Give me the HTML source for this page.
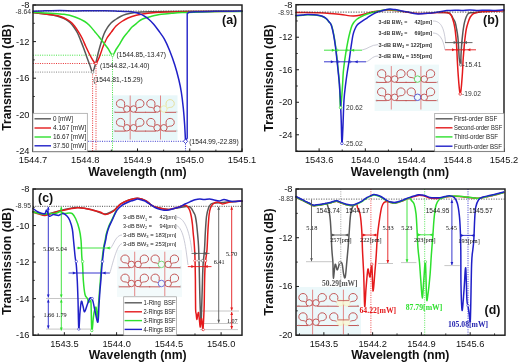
<!DOCTYPE html>
<html><head><meta charset="utf-8"><style>
html,body{margin:0;padding:0;background:#fff;width:520px;height:363px;overflow:hidden}
svg{display:block}
</style></head><body>
<svg width="520" height="363" viewBox="0 0 520 363">
<rect width="520" height="363" fill="#fff"/>
<rect x="112.5" y="95.3" width="65" height="44.7" fill="#e8f7f9"/>
<line x1="130.2" y1="95.5" x2="130.2" y2="139.5" stroke="#e07272" stroke-width="0.85" />
<line x1="160.5" y1="95.5" x2="160.5" y2="139.5" stroke="#e07272" stroke-width="0.85" />
<path d="M114.7,112.3 L125.7,112.35" fill="none" stroke="#c45858" stroke-width="1.0"/>
<path d="M124.6,106.6 C124.2,105.9 124.7,105 124.7,103.7 C124.7,101 122.6,99.6 120.6,99.6 C118.3,99.6 116.4,101.3 116.4,103.6 C116.4,105.9 118.2,107.4 120.4,107.4 C122,107.4 122.9,108 123.7,108.3" fill="none" stroke="#c45858" stroke-width="1.0"/>
<path d="M145.7,112.3 L134.7,112.35" fill="none" stroke="#c45858" stroke-width="1.0"/>
<path d="M135.8,106.6 C136.2,105.9 135.7,105 135.7,103.7 C135.7,101 137.8,99.6 139.8,99.6 C142.1,99.6 144,101.3 144,103.6 C144,105.9 142.2,107.4 140,107.4 C138.4,107.4 137.5,108 136.7,108.3" fill="none" stroke="#c45858" stroke-width="1.0"/>
<circle cx="126.85" cy="109" r="3.25" fill="none" stroke="#c45858" stroke-width="1.0"/>
<circle cx="133.55" cy="109" r="3.25" fill="none" stroke="#c45858" stroke-width="1.0"/>
<path d="M145,112.3 L156,112.35" fill="none" stroke="#c45858" stroke-width="1.0"/>
<path d="M154.9,106.6 C154.5,105.9 155,105 155,103.7 C155,101 152.9,99.6 150.9,99.6 C148.6,99.6 146.7,101.3 146.7,103.6 C146.7,105.9 148.5,107.4 150.7,107.4 C152.3,107.4 153.2,108 154,108.3" fill="none" stroke="#c45858" stroke-width="1.0"/>
<path d="M176,112.3 L165,112.35" fill="none" stroke="#c45858" stroke-width="1.0"/>
<path d="M166.1,106.6 C166.5,105.9 166,105 166,103.7 C166,101 168.1,99.6 170.1,99.6 C172.4,99.6 174.3,101.3 174.3,103.6 C174.3,105.9 172.5,107.4 170.3,107.4 C168.7,107.4 167.8,108 167,108.3" fill="none" stroke="#e6e0a0" stroke-width="1.0"/>
<circle cx="157.15" cy="109" r="3.25" fill="none" stroke="#c45858" stroke-width="1.0"/>
<circle cx="163.85" cy="109" r="3.25" fill="none" stroke="#eeeeb0" stroke-width="1.0"/>
<line x1="145.5" y1="112.3" x2="145.2" y2="112.3" stroke="#c45858" stroke-width="0.85" />
<line x1="115.4" y1="112.3" x2="114.9" y2="112.3" stroke="#c45858" stroke-width="0.85" />
<line x1="175.8" y1="112.3" x2="176" y2="112.3" stroke="#c45858" stroke-width="0.85" />
<line x1="114.6" y1="111" x2="114.6" y2="113.1" stroke="#b0b0b0" stroke-width="0.6" />
<line x1="176.8" y1="111" x2="176.8" y2="113.1" stroke="#b0b0b0" stroke-width="0.6" />
<path d="M114.7,131.1 L125.7,131.15" fill="none" stroke="#c45858" stroke-width="1.0"/>
<path d="M124.6,125.4 C124.2,124.7 124.7,123.8 124.7,122.5 C124.7,119.8 122.6,118.4 120.6,118.4 C118.3,118.4 116.4,120.1 116.4,122.4 C116.4,124.7 118.2,126.2 120.4,126.2 C122,126.2 122.9,126.8 123.7,127.1" fill="none" stroke="#c45858" stroke-width="1.0"/>
<path d="M145.7,131.1 L134.7,131.15" fill="none" stroke="#c45858" stroke-width="1.0"/>
<path d="M135.8,125.4 C136.2,124.7 135.7,123.8 135.7,122.5 C135.7,119.8 137.8,118.4 139.8,118.4 C142.1,118.4 144,120.1 144,122.4 C144,124.7 142.2,126.2 140,126.2 C138.4,126.2 137.5,126.8 136.7,127.1" fill="none" stroke="#c45858" stroke-width="1.0"/>
<circle cx="126.85" cy="127.8" r="3.25" fill="none" stroke="#c45858" stroke-width="1.0"/>
<circle cx="133.55" cy="127.8" r="3.25" fill="none" stroke="#c45858" stroke-width="1.0"/>
<path d="M145,131.1 L156,131.15" fill="none" stroke="#c45858" stroke-width="1.0"/>
<path d="M154.9,125.4 C154.5,124.7 155,123.8 155,122.5 C155,119.8 152.9,118.4 150.9,118.4 C148.6,118.4 146.7,120.1 146.7,122.4 C146.7,124.7 148.5,126.2 150.7,126.2 C152.3,126.2 153.2,126.8 154,127.1" fill="none" stroke="#c45858" stroke-width="1.0"/>
<path d="M176,131.1 L165,131.15" fill="none" stroke="#c45858" stroke-width="1.0"/>
<path d="M166.1,125.4 C166.5,124.7 166,123.8 166,122.5 C166,119.8 168.1,118.4 170.1,118.4 C172.4,118.4 174.3,120.1 174.3,122.4 C174.3,124.7 172.5,126.2 170.3,126.2 C168.7,126.2 167.8,126.8 167,127.1" fill="none" stroke="#c45858" stroke-width="1.0"/>
<circle cx="157.15" cy="127.8" r="3.25" fill="none" stroke="#c45858" stroke-width="1.0"/>
<circle cx="163.85" cy="127.8" r="3.25" fill="none" stroke="#c45858" stroke-width="1.0"/>
<line x1="145.5" y1="131.1" x2="145.2" y2="131.1" stroke="#c45858" stroke-width="0.85" />
<line x1="115.4" y1="131.1" x2="114.9" y2="131.1" stroke="#c45858" stroke-width="0.85" />
<line x1="175.8" y1="131.1" x2="176" y2="131.1" stroke="#c45858" stroke-width="0.85" />
<line x1="114.6" y1="129.8" x2="114.6" y2="131.9" stroke="#b0b0b0" stroke-width="0.6" />
<line x1="176.8" y1="129.8" x2="176.8" y2="131.9" stroke="#b0b0b0" stroke-width="0.6" />
<line x1="33" y1="55.2" x2="112.5" y2="55.2" stroke="#2ee02e" stroke-width="0.9" stroke-dasharray="1 1.3"/>
<line x1="112.5" y1="55.2" x2="112.5" y2="151.4" stroke="#2ee02e" stroke-width="0.9" stroke-dasharray="1 1.3"/>
<line x1="33" y1="63.5" x2="96" y2="63.5" stroke="#e41a1c" stroke-width="0.9" stroke-dasharray="1 1.3"/>
<line x1="96" y1="63.5" x2="96" y2="151.4" stroke="#e41a1c" stroke-width="0.9" stroke-dasharray="1 1.3"/>
<line x1="33" y1="72.1" x2="92.6" y2="72.1" stroke="#777" stroke-width="0.9" stroke-dasharray="1 1.3"/>
<line x1="92.6" y1="72.1" x2="92.6" y2="151.4" stroke="#e41a1c" stroke-width="0.9" stroke-dasharray="1 1.3"/>
<line x1="33" y1="141.3" x2="185.5" y2="141.3" stroke="#2020c8" stroke-width="0.9" stroke-dasharray="1 1.3"/>
<line x1="185.5" y1="141.3" x2="185.5" y2="151.4" stroke="#2020c8" stroke-width="0.9" stroke-dasharray="1 1.3"/>
<path d="M33,12.6 C35,12.83 41.55,13.55 45,14 C48.45,14.45 51.2,14.8 53.7,15.3 C56.2,15.8 57.95,16.3 60,17 C62.05,17.7 64.25,18.5 66,19.5 C67.75,20.5 69.12,21.63 70.5,23 C71.88,24.37 73.13,26.03 74.3,27.7 C75.47,29.37 76.47,30.93 77.5,33 C78.53,35.07 79.48,37.6 80.5,40.1 C81.52,42.6 82.57,45.23 83.6,48 C84.63,50.77 85.67,53.87 86.7,56.7 C87.73,59.53 88.82,62.48 89.8,65 C90.78,67.52 91.65,71.97 92.6,71.8 C93.55,71.63 94.57,67.13 95.5,64 C96.43,60.87 97.25,56.63 98.2,53 C99.15,49.37 100.23,45.37 101.2,42.2 C102.17,39.03 102.97,36.42 104,34 C105.03,31.58 106.23,29.53 107.4,27.7 C108.57,25.87 109.63,24.37 111,23 C112.37,21.63 114.02,20.58 115.6,19.5 C117.18,18.42 118.77,17.37 120.5,16.5 C122.23,15.63 123.58,14.95 126,14.3 C128.42,13.65 131,13.03 135,12.6 C139,12.17 143.33,11.9 150,11.7 C156.67,11.5 159.67,11.47 175,11.4 C190.33,11.33 230.83,11.32 242,11.3" fill="none" stroke="#585858" stroke-width="1.5" stroke-linejoin="round" stroke-linecap="round" />
<path d="M33,12.6 C35,12.83 40.87,13.48 45,14 C49.13,14.52 54.63,15.03 57.8,15.7 C60.97,16.37 61.93,17.03 64,18 C66.07,18.97 68.45,20.17 70.2,21.5 C71.95,22.83 73.12,24.27 74.5,26 C75.88,27.73 77.2,29.82 78.5,31.9 C79.8,33.98 81.1,36.1 82.3,38.5 C83.5,40.9 84.6,43.88 85.7,46.3 C86.8,48.72 87.87,50.93 88.9,53 C89.93,55.07 91.05,57.2 91.9,58.7 C92.75,60.2 93.32,61.2 94,62 C94.68,62.8 95.25,64 96,63.5 C96.75,63 97.7,60.75 98.5,59 C99.3,57.25 100.02,55.12 100.8,53 C101.58,50.88 102.17,48.8 103.2,46.3 C104.23,43.8 105.62,40.4 107,38 C108.38,35.6 110,33.9 111.5,31.9 C113,29.9 114.28,27.73 116,26 C117.72,24.27 119.8,22.83 121.8,21.5 C123.8,20.17 125.58,19.03 128,18 C130.42,16.97 132.97,16.1 136.3,15.3 C139.63,14.5 143.22,13.75 148,13.2 C152.78,12.65 158,12.28 165,12 C172,11.72 177.17,11.62 190,11.5 C202.83,11.38 233.33,11.33 242,11.3" fill="none" stroke="#e41a1c" stroke-width="1.5" stroke-linejoin="round" stroke-linecap="round" />
<path d="M33,12.3 C35.83,12.45 44.83,12.87 50,13.2 C55.17,13.53 59.83,13.67 64,14.3 C68.17,14.93 71.55,15.8 75,17 C78.45,18.2 82.2,20 84.7,21.5 C87.2,23 88.28,24.27 90,26 C91.72,27.73 93.5,30.12 95,31.9 C96.5,33.68 97.63,34.98 99,36.7 C100.37,38.42 101.7,40.23 103.2,42.2 C104.7,44.17 106.45,46.33 108,48.5 C109.55,50.67 111.17,55.03 112.5,55.2 C113.83,55.37 114.78,51.4 116,49.5 C117.22,47.6 118.55,45.8 119.8,43.8 C121.05,41.8 122.13,39.48 123.5,37.5 C124.87,35.52 126.58,33.65 128,31.9 C129.42,30.15 130.62,28.38 132,27 C133.38,25.62 134.85,24.77 136.3,23.6 C137.75,22.43 139.08,20.97 140.7,20 C142.32,19.03 144.28,18.4 146,17.8 C147.72,17.2 148.45,16.98 151,16.4 C153.55,15.82 157.85,14.82 161.3,14.3 C164.75,13.78 168.25,13.58 171.7,13.3 C175.15,13.02 177.28,12.82 182,12.6 C186.72,12.38 193.67,12.17 200,12 C206.33,11.83 213,11.7 220,11.6 C227,11.5 238.33,11.43 242,11.4" fill="none" stroke="#2ee02e" stroke-width="1.5" stroke-linejoin="round" stroke-linecap="round" />
<path d="M33,11.2 C35,11.13 40.5,10.92 45,10.8 C49.5,10.68 55,10.48 60,10.5 C65,10.52 70,10.87 75,10.9 C80,10.93 85,10.72 90,10.7 C95,10.68 100.33,10.72 105,10.8 C109.67,10.88 114.17,11.07 118,11.2 C121.83,11.33 125.27,11.42 128,11.6 C130.73,11.78 132.57,11.97 134.4,12.3 C136.23,12.63 137.4,13.02 139,13.6 C140.6,14.18 142.33,14.82 144,15.8 C145.67,16.78 147.38,18.1 149,19.5 C150.62,20.9 152.12,22.37 153.7,24.2 C155.28,26.03 156.72,28.02 158.5,30.5 C160.28,32.98 162.55,35.77 164.4,39.1 C166.25,42.43 167.87,46.18 169.6,50.5 C171.33,54.82 173.25,60.08 174.8,65 C176.35,69.92 177.82,75.5 178.9,80 C179.98,84.5 180.57,87.33 181.3,92 C182.03,96.67 182.75,102.67 183.3,108 C183.85,113.33 184.23,118.48 184.6,124 C184.97,129.52 185.35,138.25 185.5,141.1" fill="none" stroke="#2020c8" stroke-width="1.5" stroke-linejoin="round" stroke-linecap="round" />
<path d="M185.5,141.1 L187.2,138 L187.2,13.5 L189,12.3 L195,11.8" fill="none" stroke="#2020c8" stroke-width="1.4" />
<path d="M195,11.8 C197.5,11.73 205,11.48 210,11.4 C215,11.32 219.67,11.35 225,11.3 C230.33,11.25 239.17,11.13 242,11.1" fill="none" stroke="#2020c8" stroke-width="1.5" stroke-linejoin="round" stroke-linecap="round" />
<line x1="33" y1="11" x2="242" y2="11" stroke="#444" stroke-width="0.8" stroke-dasharray="1.2 1.3"/>
<circle cx="92.6" cy="72.1" r="1.3" fill="#fff" stroke="#777" stroke-width="0.7"/>
<circle cx="96" cy="63.5" r="1.3" fill="#fff" stroke="#e41a1c" stroke-width="0.7"/>
<circle cx="112.5" cy="55.2" r="1.3" fill="#fff" stroke="#2ee02e" stroke-width="0.7"/>
<polygon points="185.5,139.1 187.7,141.3 185.5,143.5 183.3,141.3" fill="#fff" stroke="#2020c8" stroke-width="0.8"/>
<rect x="33" y="5" width="209" height="146.4" fill="none" stroke="#1e1e1e" stroke-width="1.45"/>
<line x1="33" y1="151.4" x2="33" y2="148.4" stroke="#1e1e1e" stroke-width="1.0" />
<line x1="85.25" y1="151.4" x2="85.25" y2="148.4" stroke="#1e1e1e" stroke-width="1.0" />
<line x1="137.5" y1="151.4" x2="137.5" y2="148.4" stroke="#1e1e1e" stroke-width="1.0" />
<line x1="189.75" y1="151.4" x2="189.75" y2="148.4" stroke="#1e1e1e" stroke-width="1.0" />
<line x1="242" y1="151.4" x2="242" y2="148.4" stroke="#1e1e1e" stroke-width="1.0" />
<line x1="59.12" y1="151.4" x2="59.12" y2="149.6" stroke="#1e1e1e" stroke-width="0.9" />
<line x1="111.37" y1="151.4" x2="111.37" y2="149.6" stroke="#1e1e1e" stroke-width="0.9" />
<line x1="163.63" y1="151.4" x2="163.63" y2="149.6" stroke="#1e1e1e" stroke-width="0.9" />
<line x1="215.88" y1="151.4" x2="215.88" y2="149.6" stroke="#1e1e1e" stroke-width="0.9" />
<line x1="33" y1="5" x2="36" y2="5" stroke="#1e1e1e" stroke-width="1.0" />
<line x1="33" y1="41.6" x2="36" y2="41.6" stroke="#1e1e1e" stroke-width="1.0" />
<line x1="33" y1="78.2" x2="36" y2="78.2" stroke="#1e1e1e" stroke-width="1.0" />
<line x1="33" y1="114.8" x2="36" y2="114.8" stroke="#1e1e1e" stroke-width="1.0" />
<line x1="33" y1="151.4" x2="36" y2="151.4" stroke="#1e1e1e" stroke-width="1.0" />
<line x1="33" y1="23.3" x2="34.8" y2="23.3" stroke="#1e1e1e" stroke-width="0.9" />
<line x1="33" y1="59.9" x2="34.8" y2="59.9" stroke="#1e1e1e" stroke-width="0.9" />
<line x1="33" y1="96.5" x2="34.8" y2="96.5" stroke="#1e1e1e" stroke-width="0.9" />
<line x1="33" y1="133.1" x2="34.8" y2="133.1" stroke="#1e1e1e" stroke-width="0.9" />
<text x="33" y="163" font-family="'Liberation Sans', Arial, sans-serif" font-size="9.3" font-weight="normal" fill="#111" text-anchor="middle" >1544.7</text>
<text x="85.25" y="163" font-family="'Liberation Sans', Arial, sans-serif" font-size="9.3" font-weight="normal" fill="#111" text-anchor="middle" >1544.8</text>
<text x="137.5" y="163" font-family="'Liberation Sans', Arial, sans-serif" font-size="9.3" font-weight="normal" fill="#111" text-anchor="middle" >1544.9</text>
<text x="189.75" y="163" font-family="'Liberation Sans', Arial, sans-serif" font-size="9.3" font-weight="normal" fill="#111" text-anchor="middle" >1545.0</text>
<text x="242" y="163" font-family="'Liberation Sans', Arial, sans-serif" font-size="9.3" font-weight="normal" fill="#111" text-anchor="middle" >1545.1</text>
<text x="29.5" y="8" font-family="'Liberation Sans', Arial, sans-serif" font-size="9.3" font-weight="normal" fill="#111" text-anchor="end" >-8</text>
<text x="29.5" y="44.6" font-family="'Liberation Sans', Arial, sans-serif" font-size="9.3" font-weight="normal" fill="#111" text-anchor="end" >-12</text>
<text x="29.5" y="81.2" font-family="'Liberation Sans', Arial, sans-serif" font-size="9.3" font-weight="normal" fill="#111" text-anchor="end" >-16</text>
<text x="29.5" y="117.8" font-family="'Liberation Sans', Arial, sans-serif" font-size="9.3" font-weight="normal" fill="#111" text-anchor="end" >-20</text>
<text x="29.5" y="154.4" font-family="'Liberation Sans', Arial, sans-serif" font-size="9.3" font-weight="normal" fill="#111" text-anchor="end" >-24</text>
<text x="31" y="13.5" font-family="'Liberation Sans', Arial, sans-serif" font-size="6.8" font-weight="normal" fill="#333" text-anchor="end" >-8.64</text>
<text x="116.5" y="57.4" font-family="'Liberation Sans', Arial, sans-serif" font-size="6.8" font-weight="normal" fill="#222" text-anchor="start" textLength="49.5" lengthAdjust="spacingAndGlyphs" >(1544.85,-13.47)</text>
<text x="100" y="68.3" font-family="'Liberation Sans', Arial, sans-serif" font-size="6.8" font-weight="normal" fill="#222" text-anchor="start" textLength="49.5" lengthAdjust="spacingAndGlyphs" >(1544.82,-14.40)</text>
<text x="93.2" y="81.6" font-family="'Liberation Sans', Arial, sans-serif" font-size="6.8" font-weight="normal" fill="#222" text-anchor="start" textLength="49.5" lengthAdjust="spacingAndGlyphs" >(1544.81,-15.29)</text>
<text x="189.3" y="143.7" font-family="'Liberation Sans', Arial, sans-serif" font-size="6.8" font-weight="normal" fill="#222" text-anchor="start" textLength="49.5" lengthAdjust="spacingAndGlyphs" >(1544.99,-22.89)</text>
<text x="222" y="24.2" font-family="'Liberation Sans', Arial, sans-serif" font-size="12.4" font-weight="bold" fill="#111" text-anchor="start" >(a)</text>
<rect x="33" y="113.3" width="54.3" height="38.1" fill="#ffffff" stroke="#9a9a9a" stroke-width="0.7"/>
<line x1="34.5" y1="118.8" x2="51" y2="118.8" stroke="#585858" stroke-width="1.4" />
<text x="53" y="121.22" font-family="'Liberation Sans', Arial, sans-serif" font-size="6.9" font-weight="normal" fill="#222" text-anchor="start" textLength="20" lengthAdjust="spacingAndGlyphs" >0 [mW]</text>
<line x1="34.5" y1="128" x2="51" y2="128" stroke="#e41a1c" stroke-width="1.4" />
<text x="53" y="130.41" font-family="'Liberation Sans', Arial, sans-serif" font-size="6.9" font-weight="normal" fill="#222" text-anchor="start" textLength="33.2" lengthAdjust="spacingAndGlyphs" >4.167 [mW]</text>
<line x1="34.5" y1="137" x2="51" y2="137" stroke="#2ee02e" stroke-width="1.4" />
<text x="53" y="139.41" font-family="'Liberation Sans', Arial, sans-serif" font-size="6.9" font-weight="normal" fill="#222" text-anchor="start" textLength="33.2" lengthAdjust="spacingAndGlyphs" >16.67 [mW]</text>
<line x1="34.5" y1="145.8" x2="51" y2="145.8" stroke="#2020c8" stroke-width="1.4" />
<text x="53" y="148.22" font-family="'Liberation Sans', Arial, sans-serif" font-size="6.9" font-weight="normal" fill="#222" text-anchor="start" textLength="33.2" lengthAdjust="spacingAndGlyphs" >37.50 [mW]</text>
<text x="137.5" y="176" font-family="'Liberation Sans', Arial, sans-serif" font-size="12.3" font-weight="bold" fill="#111" text-anchor="middle" textLength="98.4" lengthAdjust="spacingAndGlyphs" >Wavelength (nm)</text>
<text transform="translate(11,77.5) rotate(-90)" x="0" y="0" text-anchor="middle" font-family="'Liberation Sans', Arial, sans-serif" font-size="12.3" font-weight="bold" fill="#111" textLength="106.4" lengthAdjust="spacingAndGlyphs">Transmission (dB)</text>
<rect x="374.6" y="64.6" width="64.4" height="46.4" fill="#eef9fa"/>
<line x1="391.3" y1="66.1" x2="391.3" y2="109.5" stroke="#e07272" stroke-width="0.85" />
<line x1="420.9" y1="66.1" x2="420.9" y2="109.5" stroke="#e07272" stroke-width="0.85" />
<path d="M375.8,82.4 L386.8,82.45" fill="none" stroke="#c45858" stroke-width="1.0"/>
<path d="M385.7,76.7 C385.3,76 385.8,75.1 385.8,73.8 C385.8,71.1 383.7,69.7 381.7,69.7 C379.4,69.7 377.5,71.4 377.5,73.7 C377.5,76 379.3,77.5 381.5,77.5 C383.1,77.5 384,78.1 384.8,78.4" fill="none" stroke="#c45858" stroke-width="1.0"/>
<path d="M406.8,82.4 L395.8,82.45" fill="none" stroke="#c45858" stroke-width="1.0"/>
<path d="M396.9,76.7 C397.3,76 396.8,75.1 396.8,73.8 C396.8,71.1 398.9,69.7 400.9,69.7 C403.2,69.7 405.1,71.4 405.1,73.7 C405.1,76 403.3,77.5 401.1,77.5 C399.5,77.5 398.6,78.1 397.8,78.4" fill="none" stroke="#c45858" stroke-width="1.0"/>
<circle cx="387.95" cy="79.1" r="3.25" fill="none" stroke="#c45858" stroke-width="1.0"/>
<circle cx="394.65" cy="79.1" r="3.25" fill="none" stroke="#c45858" stroke-width="1.0"/>
<path d="M405.4,82.4 L416.4,82.45" fill="none" stroke="#c45858" stroke-width="1.0"/>
<path d="M415.3,76.7 C414.9,76 415.4,75.1 415.4,73.8 C415.4,71.1 413.3,69.7 411.3,69.7 C409,69.7 407.1,71.4 407.1,73.7 C407.1,76 408.9,77.5 411.1,77.5 C412.7,77.5 413.6,78.1 414.4,78.4" fill="none" stroke="#c45858" stroke-width="1.0"/>
<path d="M436.4,82.4 L425.4,82.45" fill="none" stroke="#c45858" stroke-width="1.0"/>
<path d="M426.5,76.7 C426.9,76 426.4,75.1 426.4,73.8 C426.4,71.1 428.5,69.7 430.5,69.7 C432.8,69.7 434.7,71.4 434.7,73.7 C434.7,76 432.9,77.5 430.7,77.5 C429.1,77.5 428.2,78.1 427.4,78.4" fill="none" stroke="#c45858" stroke-width="1.0"/>
<circle cx="417.55" cy="79.1" r="3.25" fill="none" stroke="#66d866" stroke-width="1.0"/>
<circle cx="424.25" cy="79.1" r="3.25" fill="none" stroke="#c45858" stroke-width="1.0"/>
<line x1="406.6" y1="82.4" x2="405.6" y2="82.4" stroke="#c45858" stroke-width="0.85" />
<line x1="377.5" y1="82.4" x2="376" y2="82.4" stroke="#c45858" stroke-width="0.85" />
<line x1="436.2" y1="82.4" x2="436.7" y2="82.4" stroke="#c45858" stroke-width="0.85" />
<line x1="376.7" y1="81.1" x2="376.7" y2="83.2" stroke="#b0b0b0" stroke-width="0.6" />
<line x1="437.5" y1="81.1" x2="437.5" y2="83.2" stroke="#b0b0b0" stroke-width="0.6" />
<path d="M375.8,100.6 L386.8,100.65" fill="none" stroke="#c45858" stroke-width="1.0"/>
<path d="M385.7,94.9 C385.3,94.2 385.8,93.3 385.8,92 C385.8,89.3 383.7,87.9 381.7,87.9 C379.4,87.9 377.5,89.6 377.5,91.9 C377.5,94.2 379.3,95.7 381.5,95.7 C383.1,95.7 384,96.3 384.8,96.6" fill="none" stroke="#c45858" stroke-width="1.0"/>
<path d="M406.8,100.6 L395.8,100.65" fill="none" stroke="#c45858" stroke-width="1.0"/>
<path d="M396.9,94.9 C397.3,94.2 396.8,93.3 396.8,92 C396.8,89.3 398.9,87.9 400.9,87.9 C403.2,87.9 405.1,89.6 405.1,91.9 C405.1,94.2 403.3,95.7 401.1,95.7 C399.5,95.7 398.6,96.3 397.8,96.6" fill="none" stroke="#c45858" stroke-width="1.0"/>
<circle cx="387.95" cy="97.3" r="3.25" fill="none" stroke="#c45858" stroke-width="1.0"/>
<circle cx="394.65" cy="97.3" r="3.25" fill="none" stroke="#c45858" stroke-width="1.0"/>
<path d="M405.4,100.6 L416.4,100.65" fill="none" stroke="#c45858" stroke-width="1.0"/>
<path d="M415.3,94.9 C414.9,94.2 415.4,93.3 415.4,92 C415.4,89.3 413.3,87.9 411.3,87.9 C409,87.9 407.1,89.6 407.1,91.9 C407.1,94.2 408.9,95.7 411.1,95.7 C412.7,95.7 413.6,96.3 414.4,96.6" fill="none" stroke="#c45858" stroke-width="1.0"/>
<path d="M436.4,100.6 L425.4,100.65" fill="none" stroke="#c45858" stroke-width="1.0"/>
<path d="M426.5,94.9 C426.9,94.2 426.4,93.3 426.4,92 C426.4,89.3 428.5,87.9 430.5,87.9 C432.8,87.9 434.7,89.6 434.7,91.9 C434.7,94.2 432.9,95.7 430.7,95.7 C429.1,95.7 428.2,96.3 427.4,96.6" fill="none" stroke="#c45858" stroke-width="1.0"/>
<circle cx="417.55" cy="97.3" r="3.25" fill="none" stroke="#5a5ad0" stroke-width="1.0"/>
<circle cx="424.25" cy="97.3" r="3.25" fill="none" stroke="#c45858" stroke-width="1.0"/>
<line x1="406.6" y1="100.6" x2="405.6" y2="100.6" stroke="#c45858" stroke-width="0.85" />
<line x1="377.5" y1="100.6" x2="376" y2="100.6" stroke="#c45858" stroke-width="0.85" />
<line x1="436.2" y1="100.6" x2="436.7" y2="100.6" stroke="#c45858" stroke-width="0.85" />
<line x1="376.7" y1="99.3" x2="376.7" y2="101.4" stroke="#b0b0b0" stroke-width="0.6" />
<line x1="437.5" y1="99.3" x2="437.5" y2="101.4" stroke="#b0b0b0" stroke-width="0.6" />
<path d="M438,12.6 C439.17,12.6 443.17,12.53 445,12.6 C446.83,12.67 447.92,12.52 449,13 C450.08,13.48 450.75,14.47 451.5,15.5 C452.25,16.53 452.88,18.05 453.5,19.2 C454.12,20.35 454.68,20.77 455.2,22.4 C455.72,24.03 456.17,26.62 456.6,29 C457.03,31.38 457.5,34.2 457.8,36.7 C458.1,39.2 458.23,41.6 458.4,44 C458.57,46.4 458.67,48.77 458.8,51.1 C458.93,53.43 459,56.02 459.2,58 C459.4,59.98 459.73,61.85 460,63 C460.27,64.15 460.63,65.07 460.8,64.9 C460.97,64.73 460.98,63.15 461,62 C461.02,60.85 460.87,59.82 460.9,58 C460.93,56.18 461.07,53.43 461.2,51.1 C461.33,48.77 461.5,46.4 461.7,44 C461.9,41.6 462.13,39.2 462.4,36.7 C462.67,34.2 462.95,31.38 463.3,29 C463.65,26.62 464.02,24.4 464.5,22.4 C464.98,20.4 465.6,18.45 466.2,17 C466.8,15.55 467.3,14.4 468.1,13.7 C468.9,13 469.02,13.05 471,12.8 C472.98,12.55 478.5,12.3 480,12.2" fill="none" stroke="#585858" stroke-width="1.5" stroke-linejoin="round" stroke-linecap="round" />
<path d="M296,12.6 C297.5,12.6 301.33,12.57 305,12.6 C308.67,12.63 313.83,12.67 318,12.8 C322.17,12.93 326.17,13.12 330,13.4 C333.83,13.68 337.08,14.07 341,14.5 C344.92,14.93 349.88,16 353.5,16 C357.12,16 359.62,15.18 362.7,14.5 C365.78,13.82 369.12,12.52 372,11.9 C374.88,11.28 377.33,11.12 380,10.8 C382.67,10.48 385,10 388,10 C391,10 394.67,10.43 398,10.8 C401.33,11.17 404.67,11.75 408,12.2 C411.33,12.65 414.33,13.33 418,13.5 C421.67,13.67 426.67,13.35 430,13.2 C433.33,13.05 435.67,12.72 438,12.6 C440.33,12.48 442.42,12.47 444,12.5 C445.58,12.53 446.5,12.58 447.5,12.8 C448.5,13.02 449.28,13.18 450,13.8 C450.72,14.42 451.18,15.07 451.8,16.5 C452.42,17.93 453.17,20.32 453.7,22.4 C454.23,24.48 454.63,26.62 455,29 C455.37,31.38 455.65,34.2 455.9,36.7 C456.15,39.2 456.33,41.6 456.5,44 C456.67,46.4 456.77,48.43 456.9,51.1 C457.03,53.77 457.12,56.52 457.3,60 C457.48,63.48 457.73,68 458,72 C458.27,76 458.63,80.83 458.9,84 C459.17,87.17 459.38,89.33 459.6,91 C459.82,92.67 459.98,94 460.2,94 C460.42,94 460.67,92.67 460.9,91 C461.13,89.33 461.33,87.17 461.6,84 C461.87,80.83 462.25,76 462.5,72 C462.75,68 462.88,63.48 463.1,60 C463.32,56.52 463.58,53.77 463.8,51.1 C464.02,48.43 464.17,46.4 464.4,44 C464.63,41.6 464.88,39.2 465.2,36.7 C465.52,34.2 465.82,31.38 466.3,29 C466.78,26.62 467.43,24.4 468.1,22.4 C468.77,20.4 469.47,18.43 470.3,17 C471.13,15.57 471.98,14.53 473.1,13.8 C474.22,13.07 475.52,12.93 477,12.6 C478.48,12.27 479.5,12.03 482,11.8 C484.5,11.57 488.33,11.37 492,11.2 C495.67,11.03 502,10.87 504,10.8" fill="none" stroke="#e41a1c" stroke-width="1.5" stroke-linejoin="round" stroke-linecap="round" />
<path d="M296,15.8 C297.12,15.7 300.78,15.38 302.7,15.2 C304.62,15.02 305.62,14.73 307.5,14.7 C309.38,14.67 311.98,14.82 314,15 C316.02,15.18 318.02,15.47 319.6,15.8 C321.18,16.13 322.35,16.47 323.5,17 C324.65,17.53 325.58,18.17 326.5,19 C327.42,19.83 328.18,21 329,22 C329.82,23 330.6,22.87 331.4,25 C332.2,27.13 333.08,31.13 333.8,34.8 C334.52,38.47 335.15,42.87 335.7,47 C336.25,51.13 336.65,55.43 337.1,59.6 C337.55,63.77 338,67.87 338.4,72 C338.8,76.13 339.17,78.5 339.5,84.4 C339.83,90.3 340.07,104.8 340.4,107.4 C340.73,110 341.13,103.83 341.5,100 C341.87,96.17 342.3,89.07 342.6,84.4 C342.9,79.73 342.93,76.13 343.3,72 C343.67,67.87 344.22,63.73 344.8,59.6 C345.38,55.47 346.05,51.33 346.8,47.2 C347.55,43.07 348.38,38.52 349.3,34.8 C350.22,31.08 351.1,27.45 352.3,24.9 C353.5,22.35 354.55,21.12 356.5,19.5 C358.45,17.88 361.42,16.37 364,15.2 C366.58,14.03 369.47,13.2 372,12.5 C374.53,11.8 376.45,11.5 379.2,11 C381.95,10.5 384.9,9.52 388.5,9.5 C392.1,9.48 398.75,10.67 400.8,10.9" fill="none" stroke="#2ee02e" stroke-width="1.5" stroke-linejoin="round" stroke-linecap="round" />
<path d="M296,15.6 C297.12,15.5 300.78,15.18 302.7,15 C304.62,14.82 305.62,14.53 307.5,14.5 C309.38,14.47 311.98,14.62 314,14.8 C316.02,14.98 318.02,15.27 319.6,15.6 C321.18,15.93 322.35,16.27 323.5,16.8 C324.65,17.33 325.58,17.97 326.5,18.8 C327.42,19.63 328.22,20.77 329,21.8 C329.78,22.83 330.43,22.83 331.2,25 C331.97,27.17 332.88,31.13 333.6,34.8 C334.32,38.47 334.95,42.87 335.5,47 C336.05,51.13 336.45,55.43 336.9,59.6 C337.35,63.77 337.78,67.87 338.2,72 C338.62,76.13 339.03,79.73 339.4,84.4 C339.77,89.07 340.1,94.07 340.4,100 C340.7,105.93 340.95,112.8 341.2,120 C341.45,127.2 341.63,141.53 341.9,143.2 C342.17,144.87 342.45,137.2 342.8,130 C343.15,122.8 343.53,107.6 344,100 C344.47,92.4 345.05,89.07 345.6,84.4 C346.15,79.73 346.68,76.13 347.3,72 C347.92,67.87 348.68,63.73 349.3,59.6 C349.92,55.47 350.38,51.33 351,47.2 C351.62,43.07 352.33,37.83 353,34.8 C353.67,31.77 354.3,30.65 355,29 C355.7,27.35 356.17,26.1 357.2,24.9 C358.23,23.7 359.52,22.98 361.2,21.8 C362.88,20.62 365.25,19.13 367.3,17.8 C369.35,16.47 371.52,14.85 373.5,13.8 C375.48,12.75 376.7,12.27 379.2,11.5 C381.7,10.73 385.87,9.52 388.5,9.2 C391.13,8.88 392.95,9.35 395,9.6 C397.05,9.85 398.63,10.3 400.8,10.7 C402.97,11.1 405.43,11.48 408,12 C410.57,12.52 413.53,13.53 416.2,13.8 C418.87,14.07 421.45,13.73 424,13.6 C426.55,13.47 428.83,13.3 431.5,13 C434.17,12.7 437.42,12.2 440,11.8 C442.58,11.4 444.5,10.87 447,10.6 C449.5,10.33 452.5,10.23 455,10.2 C457.5,10.17 459.5,10.43 462,10.4 C464.5,10.37 467.33,10 470,10 C472.67,10 475.33,10.37 478,10.4 C480.67,10.43 483.33,10.2 486,10.2 C488.67,10.2 491,10.47 494,10.4 C497,10.33 502.33,9.9 504,9.8" fill="none" stroke="#2020c8" stroke-width="1.5" stroke-linejoin="round" stroke-linecap="round" />
<line x1="296" y1="12.1" x2="504" y2="12.1" stroke="#333" stroke-width="0.8" stroke-dasharray="1.4 1.2"/>
<circle cx="460.8" cy="64.9" r="1.3" fill="#fff" stroke="#585858" stroke-width="0.7"/>
<circle cx="460.2" cy="94" r="1.3" fill="#fff" stroke="#e41a1c" stroke-width="0.7"/>
<circle cx="340.6" cy="107.6" r="1.3" fill="#fff" stroke="#2ee02e" stroke-width="0.7"/>
<circle cx="341.9" cy="143.4" r="1.3" fill="#fff" stroke="#2020c8" stroke-width="0.7"/>
<circle cx="337.3" cy="50.2" r="1" fill="none" stroke="#2ee02e" stroke-width="0.6"/>
<circle cx="347" cy="50.2" r="1" fill="none" stroke="#2ee02e" stroke-width="0.6"/>
<circle cx="338.2" cy="61.8" r="1" fill="none" stroke="#2020c8" stroke-width="0.6"/>
<circle cx="350.1" cy="61.8" r="1" fill="none" stroke="#2020c8" stroke-width="0.6"/>
<circle cx="458.3" cy="42.6" r="1" fill="none" stroke="#585858" stroke-width="0.6"/>
<circle cx="461.8" cy="42.6" r="1" fill="none" stroke="#585858" stroke-width="0.6"/>
<circle cx="456.8" cy="49.8" r="1" fill="none" stroke="#e41a1c" stroke-width="0.6"/>
<circle cx="463.9" cy="49.8" r="1" fill="none" stroke="#e41a1c" stroke-width="0.6"/>
<line x1="445" y1="42.6" x2="472.5" y2="42.6" stroke="#585858" stroke-width="0.9" />
<polygon points="456.8,42.6 453.6,41.1 453.6,44.1" fill="#585858"/>
<polygon points="463.8,42.6 467,41.1 467,44.1" fill="#585858"/>
<line x1="445" y1="49.8" x2="476" y2="49.8" stroke="#e41a1c" stroke-width="0.9" />
<polygon points="455.2,49.8 452,48.3 452,51.3" fill="#e41a1c"/>
<polygon points="467.2,49.8 470.4,48.3 470.4,51.3" fill="#e41a1c"/>
<line x1="324" y1="50.2" x2="362" y2="50.2" stroke="#2ee02e" stroke-width="0.9" />
<polygon points="335,50.2 331.8,48.7 331.8,51.7" fill="#2ee02e"/>
<polygon points="351,50.2 354.2,48.7 354.2,51.7" fill="#2ee02e"/>
<line x1="324" y1="61.8" x2="366" y2="61.8" stroke="#2020c8" stroke-width="0.9" />
<polygon points="334,61.8 330.8,60.3 330.8,63.3" fill="#2020c8"/>
<polygon points="354.5,61.8 357.7,60.3 357.7,63.3" fill="#2020c8"/>
<path d="M433,21 C440,21 444,26 445.5,42" fill="none" stroke="#b4b4c4" stroke-width="0.7"/>
<path d="M433,33 C439,33 443,38 445,50" fill="none" stroke="#b4b4c4" stroke-width="0.7"/>
<path d="M378,44.7 C371,44.7 368,49 362,50" fill="none" stroke="#b4b4c4" stroke-width="0.7"/>
<path d="M378,56 C372,56 370,61 366,61.8" fill="none" stroke="#b4b4c4" stroke-width="0.7"/>
<rect x="296" y="4.7" width="208" height="146.6" fill="none" stroke="#1e1e1e" stroke-width="1.45"/>
<line x1="319.11" y1="151.3" x2="319.11" y2="148.3" stroke="#1e1e1e" stroke-width="1.0" />
<line x1="365.33" y1="151.3" x2="365.33" y2="148.3" stroke="#1e1e1e" stroke-width="1.0" />
<line x1="411.56" y1="151.3" x2="411.56" y2="148.3" stroke="#1e1e1e" stroke-width="1.0" />
<line x1="457.78" y1="151.3" x2="457.78" y2="148.3" stroke="#1e1e1e" stroke-width="1.0" />
<line x1="504" y1="151.3" x2="504" y2="148.3" stroke="#1e1e1e" stroke-width="1.0" />
<line x1="342.22" y1="151.3" x2="342.22" y2="149.5" stroke="#1e1e1e" stroke-width="0.9" />
<line x1="388.44" y1="151.3" x2="388.44" y2="149.5" stroke="#1e1e1e" stroke-width="0.9" />
<line x1="434.67" y1="151.3" x2="434.67" y2="149.5" stroke="#1e1e1e" stroke-width="0.9" />
<line x1="480.89" y1="151.3" x2="480.89" y2="149.5" stroke="#1e1e1e" stroke-width="0.9" />
<line x1="296" y1="4.7" x2="299" y2="4.7" stroke="#1e1e1e" stroke-width="1.0" />
<line x1="296" y1="37.22" x2="299" y2="37.22" stroke="#1e1e1e" stroke-width="1.0" />
<line x1="296" y1="69.75" x2="299" y2="69.75" stroke="#1e1e1e" stroke-width="1.0" />
<line x1="296" y1="102.27" x2="299" y2="102.27" stroke="#1e1e1e" stroke-width="1.0" />
<line x1="296" y1="134.79" x2="299" y2="134.79" stroke="#1e1e1e" stroke-width="1.0" />
<line x1="296" y1="20.96" x2="297.8" y2="20.96" stroke="#1e1e1e" stroke-width="0.9" />
<line x1="296" y1="53.49" x2="297.8" y2="53.49" stroke="#1e1e1e" stroke-width="0.9" />
<line x1="296" y1="86.01" x2="297.8" y2="86.01" stroke="#1e1e1e" stroke-width="0.9" />
<line x1="296" y1="118.53" x2="297.8" y2="118.53" stroke="#1e1e1e" stroke-width="0.9" />
<line x1="296" y1="151.06" x2="297.8" y2="151.06" stroke="#1e1e1e" stroke-width="0.9" />
<text x="319.11" y="162.9" font-family="'Liberation Sans', Arial, sans-serif" font-size="9.3" font-weight="normal" fill="#111" text-anchor="middle" >1543.6</text>
<text x="365.33" y="162.9" font-family="'Liberation Sans', Arial, sans-serif" font-size="9.3" font-weight="normal" fill="#111" text-anchor="middle" >1544.0</text>
<text x="411.56" y="162.9" font-family="'Liberation Sans', Arial, sans-serif" font-size="9.3" font-weight="normal" fill="#111" text-anchor="middle" >1544.4</text>
<text x="457.78" y="162.9" font-family="'Liberation Sans', Arial, sans-serif" font-size="9.3" font-weight="normal" fill="#111" text-anchor="middle" >1544.8</text>
<text x="504" y="162.9" font-family="'Liberation Sans', Arial, sans-serif" font-size="9.3" font-weight="normal" fill="#111" text-anchor="middle" >1545.2</text>
<text x="292.5" y="7.7" font-family="'Liberation Sans', Arial, sans-serif" font-size="9.3" font-weight="normal" fill="#111" text-anchor="end" >-8</text>
<text x="292.5" y="40.22" font-family="'Liberation Sans', Arial, sans-serif" font-size="9.3" font-weight="normal" fill="#111" text-anchor="end" >-12</text>
<text x="292.5" y="72.75" font-family="'Liberation Sans', Arial, sans-serif" font-size="9.3" font-weight="normal" fill="#111" text-anchor="end" >-16</text>
<text x="292.5" y="105.27" font-family="'Liberation Sans', Arial, sans-serif" font-size="9.3" font-weight="normal" fill="#111" text-anchor="end" >-20</text>
<text x="292.5" y="137.79" font-family="'Liberation Sans', Arial, sans-serif" font-size="9.3" font-weight="normal" fill="#111" text-anchor="end" >-24</text>
<text x="293.5" y="14.6" font-family="'Liberation Sans', Arial, sans-serif" font-size="6.8" font-weight="normal" fill="#333" text-anchor="end" >-8.91</text>
<text x="378.6" y="23.8" font-family="'Liberation Sans', Arial, sans-serif" font-size="5.9" font-weight="bold" fill="#333" textLength="53.4" lengthAdjust="spacingAndGlyphs">3-dB BW<tspan font-size="4" dy="1.2">1</tspan><tspan dy="-1.2"> = &#160;&#160;&#160;&#160;42[pm]</tspan></text>
<text x="378.6" y="35.2" font-family="'Liberation Sans', Arial, sans-serif" font-size="5.9" font-weight="bold" fill="#333" textLength="53.4" lengthAdjust="spacingAndGlyphs">3-dB BW<tspan font-size="4" dy="1.2">2</tspan><tspan dy="-1.2"> = &#160;&#160;&#160;&#160;69[pm]</tspan></text>
<text x="378.6" y="46.8" font-family="'Liberation Sans', Arial, sans-serif" font-size="5.9" font-weight="bold" fill="#333" textLength="53.4" lengthAdjust="spacingAndGlyphs">3-dB BW<tspan font-size="4" dy="1.2">3</tspan><tspan dy="-1.2"> = 122[pm]</tspan></text>
<text x="378.6" y="58.2" font-family="'Liberation Sans', Arial, sans-serif" font-size="5.9" font-weight="bold" fill="#333" textLength="53.4" lengthAdjust="spacingAndGlyphs">3-dB BW<tspan font-size="4" dy="1.2">4</tspan><tspan dy="-1.2"> = 155[pm]</tspan></text>
<text x="462.5" y="67.3" font-family="'Liberation Sans', Arial, sans-serif" font-size="6.7" font-weight="normal" fill="#333" text-anchor="start" >-15.41</text>
<text x="462" y="96.4" font-family="'Liberation Sans', Arial, sans-serif" font-size="6.7" font-weight="normal" fill="#333" text-anchor="start" >-19.02</text>
<text x="346" y="109.8" font-family="'Liberation Sans', Arial, sans-serif" font-size="6.7" font-weight="normal" fill="#333" text-anchor="start" >20.62</text>
<text x="343.8" y="146.4" font-family="'Liberation Sans', Arial, sans-serif" font-size="6.7" font-weight="normal" fill="#333" text-anchor="start" >-25.02</text>
<text x="483" y="24.2" font-family="'Liberation Sans', Arial, sans-serif" font-size="12.4" font-weight="bold" fill="#111" text-anchor="start" >(b)</text>
<rect x="434.7" y="113.6" width="69.3" height="37.7" fill="#ffffff" stroke="#9a9a9a" stroke-width="0.7"/>
<line x1="435.5" y1="118.8" x2="452.5" y2="118.8" stroke="#585858" stroke-width="1.4" />
<text x="454" y="121.18" font-family="'Liberation Sans', Arial, sans-serif" font-size="6.8" font-weight="normal" fill="#222" text-anchor="start" textLength="43.3" lengthAdjust="spacingAndGlyphs" >First-order BSF</text>
<line x1="435.5" y1="127.8" x2="452.5" y2="127.8" stroke="#e41a1c" stroke-width="1.4" />
<text x="454" y="130.18" font-family="'Liberation Sans', Arial, sans-serif" font-size="6.8" font-weight="normal" fill="#222" text-anchor="start" textLength="48.2" lengthAdjust="spacingAndGlyphs" >Second-order BSF</text>
<line x1="435.5" y1="136.9" x2="452.5" y2="136.9" stroke="#2ee02e" stroke-width="1.4" />
<text x="454" y="139.28" font-family="'Liberation Sans', Arial, sans-serif" font-size="6.8" font-weight="normal" fill="#222" text-anchor="start" textLength="44" lengthAdjust="spacingAndGlyphs" >Third-order BSF</text>
<line x1="435.5" y1="146.2" x2="452.5" y2="146.2" stroke="#2020c8" stroke-width="1.4" />
<text x="454" y="148.58" font-family="'Liberation Sans', Arial, sans-serif" font-size="6.8" font-weight="normal" fill="#222" text-anchor="start" textLength="48" lengthAdjust="spacingAndGlyphs" >Fourth-order BSF</text>
<text x="400" y="175.5" font-family="'Liberation Sans', Arial, sans-serif" font-size="12.3" font-weight="bold" fill="#111" text-anchor="middle" textLength="98.4" lengthAdjust="spacingAndGlyphs" >Wavelength (nm)</text>
<text transform="translate(273,78) rotate(-90)" x="0" y="0" text-anchor="middle" font-family="'Liberation Sans', Arial, sans-serif" font-size="12.3" font-weight="bold" fill="#111" textLength="107.3" lengthAdjust="spacingAndGlyphs">Transmission (dB)</text>
<rect x="117" y="250" width="65" height="47" fill="#f3fafb"/>
<line x1="134.7" y1="251.7" x2="134.7" y2="296" stroke="#e07272" stroke-width="0.85" />
<line x1="164.8" y1="251.7" x2="164.8" y2="296" stroke="#e07272" stroke-width="0.85" />
<path d="M119.2,267.7 L130.2,267.75" fill="none" stroke="#c45858" stroke-width="1.0"/>
<path d="M129.1,262 C128.7,261.3 129.2,260.4 129.2,259.1 C129.2,256.4 127.1,255 125.1,255 C122.8,255 120.9,256.7 120.9,259 C120.9,261.3 122.7,262.8 124.9,262.8 C126.5,262.8 127.4,263.4 128.2,263.7" fill="none" stroke="#c45858" stroke-width="1.0"/>
<path d="M150.2,267.7 L139.2,267.75" fill="none" stroke="#c45858" stroke-width="1.0"/>
<path d="M140.3,262 C140.7,261.3 140.2,260.4 140.2,259.1 C140.2,256.4 142.3,255 144.3,255 C146.6,255 148.5,256.7 148.5,259 C148.5,261.3 146.7,262.8 144.5,262.8 C142.9,262.8 142,263.4 141.2,263.7" fill="none" stroke="#c45858" stroke-width="1.0"/>
<circle cx="131.35" cy="264.4" r="3.25" fill="none" stroke="#c45858" stroke-width="1.0"/>
<circle cx="138.05" cy="264.4" r="3.25" fill="none" stroke="#c45858" stroke-width="1.0"/>
<path d="M149.3,267.7 L160.3,267.75" fill="none" stroke="#c45858" stroke-width="1.0"/>
<path d="M159.2,262 C158.8,261.3 159.3,260.4 159.3,259.1 C159.3,256.4 157.2,255 155.2,255 C152.9,255 151,256.7 151,259 C151,261.3 152.8,262.8 155,262.8 C156.6,262.8 157.5,263.4 158.3,263.7" fill="none" stroke="#c45858" stroke-width="1.0"/>
<path d="M180.3,267.7 L169.3,267.75" fill="none" stroke="#c45858" stroke-width="1.0"/>
<path d="M170.4,262 C170.8,261.3 170.3,260.4 170.3,259.1 C170.3,256.4 172.4,255 174.4,255 C176.7,255 178.6,256.7 178.6,259 C178.6,261.3 176.8,262.8 174.6,262.8 C173,262.8 172.1,263.4 171.3,263.7" fill="none" stroke="#c45858" stroke-width="1.0"/>
<circle cx="161.45" cy="264.4" r="3.25" fill="none" stroke="#7ad87a" stroke-width="1.0"/>
<circle cx="168.15" cy="264.4" r="3.25" fill="none" stroke="#c45858" stroke-width="1.0"/>
<line x1="150" y1="267.7" x2="149.5" y2="267.7" stroke="#c45858" stroke-width="0.85" />
<line x1="119.7" y1="267.7" x2="119.4" y2="267.7" stroke="#c45858" stroke-width="0.85" />
<line x1="180.1" y1="267.7" x2="179.8" y2="267.7" stroke="#c45858" stroke-width="0.85" />
<line x1="118.9" y1="266.4" x2="118.9" y2="268.5" stroke="#b0b0b0" stroke-width="0.6" />
<line x1="180.6" y1="266.4" x2="180.6" y2="268.5" stroke="#b0b0b0" stroke-width="0.6" />
<path d="M119.2,286.8 L130.2,286.85" fill="none" stroke="#c45858" stroke-width="1.0"/>
<path d="M129.1,281.1 C128.7,280.4 129.2,279.5 129.2,278.2 C129.2,275.5 127.1,274.1 125.1,274.1 C122.8,274.1 120.9,275.8 120.9,278.1 C120.9,280.4 122.7,281.9 124.9,281.9 C126.5,281.9 127.4,282.5 128.2,282.8" fill="none" stroke="#c45858" stroke-width="1.0"/>
<path d="M150.2,286.8 L139.2,286.85" fill="none" stroke="#c45858" stroke-width="1.0"/>
<path d="M140.3,281.1 C140.7,280.4 140.2,279.5 140.2,278.2 C140.2,275.5 142.3,274.1 144.3,274.1 C146.6,274.1 148.5,275.8 148.5,278.1 C148.5,280.4 146.7,281.9 144.5,281.9 C142.9,281.9 142,282.5 141.2,282.8" fill="none" stroke="#c45858" stroke-width="1.0"/>
<circle cx="131.35" cy="283.5" r="3.25" fill="none" stroke="#c45858" stroke-width="1.0"/>
<circle cx="138.05" cy="283.5" r="3.25" fill="none" stroke="#c45858" stroke-width="1.0"/>
<path d="M149.3,286.8 L160.3,286.85" fill="none" stroke="#c45858" stroke-width="1.0"/>
<path d="M159.2,281.1 C158.8,280.4 159.3,279.5 159.3,278.2 C159.3,275.5 157.2,274.1 155.2,274.1 C152.9,274.1 151,275.8 151,278.1 C151,280.4 152.8,281.9 155,281.9 C156.6,281.9 157.5,282.5 158.3,282.8" fill="none" stroke="#c45858" stroke-width="1.0"/>
<path d="M180.3,286.8 L169.3,286.85" fill="none" stroke="#c45858" stroke-width="1.0"/>
<path d="M170.4,281.1 C170.8,280.4 170.3,279.5 170.3,278.2 C170.3,275.5 172.4,274.1 174.4,274.1 C176.7,274.1 178.6,275.8 178.6,278.1 C178.6,280.4 176.8,281.9 174.6,281.9 C173,281.9 172.1,282.5 171.3,282.8" fill="none" stroke="#c45858" stroke-width="1.0"/>
<circle cx="161.45" cy="283.5" r="3.25" fill="none" stroke="#6f6fd8" stroke-width="1.0"/>
<circle cx="168.15" cy="283.5" r="3.25" fill="none" stroke="#c45858" stroke-width="1.0"/>
<line x1="150" y1="286.8" x2="149.5" y2="286.8" stroke="#c45858" stroke-width="0.85" />
<line x1="119.7" y1="286.8" x2="119.4" y2="286.8" stroke="#c45858" stroke-width="0.85" />
<line x1="180.1" y1="286.8" x2="179.8" y2="286.8" stroke="#c45858" stroke-width="0.85" />
<line x1="118.9" y1="285.5" x2="118.9" y2="287.6" stroke="#b0b0b0" stroke-width="0.6" />
<line x1="180.6" y1="285.5" x2="180.6" y2="287.6" stroke="#b0b0b0" stroke-width="0.6" />
<line x1="33" y1="206.3" x2="242" y2="206.3" stroke="#333" stroke-width="0.9" stroke-dasharray="1 1.3"/>
<line x1="46" y1="298.5" x2="90" y2="298.5" stroke="#b8b8b8" stroke-width="0.8" />
<line x1="46" y1="329.1" x2="92" y2="329.1" stroke="#b8b8b8" stroke-width="0.8" />
<line x1="200" y1="311" x2="239" y2="311" stroke="#b8b8b8" stroke-width="0.8" />
<line x1="200" y1="323.5" x2="238" y2="323.5" stroke="#b8b8b8" stroke-width="0.8" />
<line x1="200" y1="329.6" x2="238" y2="329.6" stroke="#b8b8b8" stroke-width="0.8" />
<path d="M33,211.5 C35,212 41.58,214.33 45,214.5 C48.42,214.67 49.8,213.42 53.5,212.5 C57.2,211.58 63.22,209.83 67.2,209 C71.18,208.17 73.13,207.33 77.4,207.5 C81.67,207.67 88.23,208.92 92.8,210 C97.37,211.08 101.32,213.92 104.8,214 C108.28,214.08 111.08,212.17 113.7,210.5 C116.32,208.83 117.95,205.75 120.5,204 C123.05,202.25 126.15,200.95 129,200 C131.85,199.05 134.73,198.17 137.6,198.3 C140.47,198.43 143.92,199.67 146.2,200.8 C148.48,201.93 149.32,203.95 151.3,205.1 C153.28,206.25 155.25,206.98 158.1,207.7 C160.95,208.42 164.75,209.43 168.4,209.4 C172.05,209.37 177.07,207.98 180,207.5 C182.93,207.02 184.42,206.62 186,206.5 C187.58,206.38 188.58,206.47 189.5,206.8 C190.42,207.13 190.93,207.8 191.5,208.5 C192.07,209.2 192.43,210.17 192.9,211 C193.37,211.83 193.88,212.58 194.3,213.5 C194.72,214.42 195.02,214.75 195.4,216.5 C195.78,218.25 196.25,221.25 196.6,224 C196.95,226.75 197.23,230.17 197.5,233 C197.77,235.83 198,238.23 198.2,241 C198.4,243.77 198.53,245.43 198.7,249.6 C198.87,253.77 199.03,259.27 199.2,266 C199.37,272.73 199.52,282.67 199.7,290 C199.88,297.33 200.07,304.5 200.3,310 C200.53,315.5 200.88,323 201.1,323 C201.32,323 201.42,315.5 201.6,310 C201.78,304.5 201.97,297.33 202.2,290 C202.43,282.67 202.62,272.73 203,266 C203.38,259.27 204.12,255.1 204.5,249.6 C204.88,244.1 204.97,238.52 205.3,233 C205.63,227.48 205.97,220.67 206.5,216.5 C207.03,212.33 207.75,210.08 208.5,208 C209.25,205.92 209.82,204.85 211,204 C212.18,203.15 213.77,203.15 215.6,202.9 C217.43,202.65 219.6,202.68 222,202.5 C224.4,202.32 226.67,202.02 230,201.8 C233.33,201.58 240,201.3 242,201.2" fill="none" stroke="#585858" stroke-width="1.5" stroke-linejoin="round" stroke-linecap="round" />
<path d="M33,212 C34,212.33 37,213.43 39,214 C41,214.57 42.58,215.6 45,215.4 C47.42,215.2 51,213.53 53.5,212.8 C56,212.07 57.72,211.57 60,211 C62.28,210.43 64.3,209.95 67.2,209.4 C70.1,208.85 74.55,207.9 77.4,207.7 C80.25,207.5 81.73,207.78 84.3,208.2 C86.87,208.62 90.18,209.57 92.8,210.2 C95.42,210.83 98,211.28 100,212 C102,212.72 103.47,214.17 104.8,214.5 C106.13,214.83 106.52,214.58 108,214 C109.48,213.42 111.62,212.63 113.7,211 C115.78,209.37 117.95,206.03 120.5,204.2 C123.05,202.37 126.15,200.98 129,200 C131.85,199.02 134.73,198.17 137.6,198.3 C140.47,198.43 143.92,199.67 146.2,200.8 C148.48,201.93 149.32,203.95 151.3,205.1 C153.28,206.25 155.25,206.98 158.1,207.7 C160.95,208.42 165.42,209.35 168.4,209.4 C171.38,209.45 173.82,208.57 176,208 C178.18,207.43 180,206.45 181.5,206 C183,205.55 183.95,205.13 185,205.3 C186.05,205.47 187,206.13 187.8,207 C188.6,207.87 189.22,208.92 189.8,210.5 C190.38,212.08 190.87,214.25 191.3,216.5 C191.73,218.75 192.08,221.25 192.4,224 C192.72,226.75 192.93,230.17 193.2,233 C193.47,235.83 193.77,238.23 194,241 C194.23,243.77 194.42,246.1 194.6,249.6 C194.78,253.1 194.97,256.93 195.1,262 C195.23,267.07 195.32,272.2 195.4,280 C195.48,287.8 195.47,303.13 195.6,308.8 C195.73,314.47 196,312.23 196.2,314 C196.4,315.77 196.55,319.23 196.8,319.4 C197.05,319.57 197.4,316.13 197.7,315 C198,313.87 198.32,311.77 198.6,312.6 C198.88,313.43 199.13,317.6 199.4,320 C199.67,322.4 199.95,326.67 200.2,327 C200.45,327.33 200.67,323.42 200.9,322 C201.13,320.58 201.37,318 201.6,318.5 C201.83,319 202.08,323.12 202.3,325 C202.52,326.88 202.68,330.63 202.9,329.8 C203.12,328.97 203.38,324.13 203.6,320 C203.82,315.87 204.05,310.83 204.2,305 C204.35,299.17 204.37,291.17 204.5,285 C204.63,278.83 204.8,272.17 205,268 C205.2,263.83 205.37,263.07 205.7,260 C206.03,256.93 206.65,254.1 207,249.6 C207.35,245.1 207.55,237.6 207.8,233 C208.05,228.4 208.27,225.17 208.5,222 C208.73,218.83 208.87,216.33 209.2,214 C209.53,211.67 209.87,209.67 210.5,208 C211.13,206.33 211.82,205 213,204 C214.18,203 216,202.02 217.6,202 C219.2,201.98 220.53,203.9 222.6,203.9 C224.67,203.9 227.77,202.4 230,202 C232.23,201.6 234,201.67 236,201.5 C238,201.33 241,201.08 242,201" fill="none" stroke="#e41a1c" stroke-width="1.5" stroke-linejoin="round" stroke-linecap="round" />
<path d="M33,212 C34,212.25 37,213.17 39,213.5 C41,213.83 43.17,214 45,214 C46.83,214 48.33,213.58 50,213.5 C51.67,213.42 53.67,213.67 55,213.5 C56.33,213.33 57.1,212.83 58,212.5 C58.9,212.17 59.57,211.42 60.4,211.5 C61.23,211.58 62.15,212.65 63,213 C63.85,213.35 64.5,213.6 65.5,213.6 C66.5,213.6 67.87,213 69,213 C70.13,213 71.18,212.63 72.3,213.6 C73.42,214.57 74.55,216.23 75.7,218.8 C76.85,221.37 78.32,225.47 79.2,229 C80.08,232.53 80.57,235.42 81,240 C81.43,244.58 81.53,252.33 81.8,256.5 C82.07,260.67 82.33,260.87 82.6,265 C82.87,269.13 83,276.38 83.4,281.3 C83.8,286.22 84.32,291.6 85,294.5 C85.68,297.4 86.93,297.4 87.5,298.7 C88.07,300 88.02,301.83 88.4,302.3 C88.78,302.77 89.37,301.38 89.8,301.5 C90.23,301.62 90.67,298.08 91,303 C91.33,307.92 91.42,328.5 91.8,331 C92.18,333.5 92.87,321.33 93.3,318 C93.73,314.67 93.93,312.75 94.4,311 C94.87,309.25 95.6,306.07 96.1,307.5 C96.6,308.93 96.98,320.35 97.4,319.6 C97.82,318.85 98.23,307.93 98.6,303 C98.97,298.07 99.32,293.62 99.6,290 C99.88,286.38 100.05,284.63 100.3,281.3 C100.55,277.97 100.83,273.3 101.1,270 C101.37,266.7 101.5,265.17 101.9,261.5 C102.3,257.83 102.95,251.58 103.5,248 C104.05,244.42 104.73,242.33 105.2,240 C105.67,237.67 105.75,236.17 106.3,234 C106.85,231.83 107.63,229.25 108.5,227 C109.37,224.75 110.17,223.3 111.5,220.5 C112.83,217.7 115.67,211.92 116.5,210.2" fill="none" stroke="#2ee02e" stroke-width="1.5" stroke-linejoin="round" stroke-linecap="round" />
<path d="M33,208.5 C33.83,209.08 36.5,211.18 38,212 C39.5,212.82 40.83,213.13 42,213.4 C43.17,213.67 44.22,214.13 45,213.6 C45.78,213.07 46,209.77 46.7,210.2 C47.4,210.63 48.07,215.48 49.2,216.2 C50.33,216.92 51.93,214.63 53.5,214.5 C55.07,214.37 57.02,215.55 58.6,215.4 C60.18,215.25 61.57,213.47 63,213.6 C64.43,213.73 66.07,215.05 67.2,216.2 C68.33,217.35 68.95,218.37 69.8,220.5 C70.65,222.63 71.68,225.75 72.3,229 C72.92,232.25 73.03,235.42 73.5,240 C73.97,244.58 74.63,252.33 75.1,256.5 C75.57,260.67 75.93,260.87 76.3,265 C76.67,269.13 77.02,275.47 77.3,281.3 C77.58,287.13 77.75,292.03 78,300 C78.25,307.97 78.47,327.1 78.8,329.1 C79.13,331.1 79.57,316.62 80,312 C80.43,307.38 80.9,302.4 81.4,301.4 C81.9,300.4 82.47,304.27 83,306 C83.53,307.73 83.85,312.13 84.6,311.8 C85.35,311.47 86.58,306.3 87.5,304 C88.42,301.7 89.23,298.57 90.1,298 C90.97,297.43 91.88,298.43 92.7,300.6 C93.52,302.77 94.13,307.4 95,311 C95.87,314.6 97.23,323.2 97.9,322.2 C98.57,321.2 98.65,310.37 99,305 C99.35,299.63 99.7,293.95 100,290 C100.3,286.05 100.53,284.63 100.8,281.3 C101.07,277.97 101.33,273.3 101.6,270 C101.87,266.7 102,265.17 102.4,261.5 C102.8,257.83 103.45,251.58 104,248 C104.55,244.42 105.23,242.33 105.7,240 C106.17,237.67 106.25,236.17 106.8,234 C107.35,231.83 108.13,229.25 109,227 C109.87,224.75 110.67,223.3 112,220.5 C113.33,217.7 115.3,212.77 117,210.2 C118.7,207.63 120.2,206.52 122.2,205.1 C124.2,203.68 127.2,202.47 129,201.7 C130.8,200.93 131.57,200.93 133,200.5 C134.43,200.07 136.27,199.22 137.6,199.1 C138.93,198.98 139.87,199.52 141,199.8 C142.13,200.08 143.23,200.27 144.4,200.8 C145.57,201.33 146.85,202.28 148,203 C149.15,203.72 150.13,204.35 151.3,205.1 C152.47,205.85 153.58,206.78 155,207.5 C156.42,208.22 158.3,208.95 159.8,209.4 C161.3,209.85 162.57,210.1 164,210.2 C165.43,210.3 166.73,210.28 168.4,210 C170.07,209.72 172.07,209.03 174,208.5 C175.93,207.97 178.17,207.55 180,206.8 C181.83,206.05 183.37,204.82 185,204 C186.63,203.18 188.13,202.6 189.8,201.9 C191.47,201.2 193.33,200.3 195,199.8 C196.67,199.3 198.3,198.95 199.8,198.9 C201.3,198.85 202.35,199.5 204,199.5 C205.65,199.5 208.03,198.82 209.7,198.9 C211.37,198.98 212.35,199.67 214,200 C215.65,200.33 217.93,200.98 219.6,200.9 C221.27,200.82 222.35,199.5 224,199.5 C225.65,199.5 227.67,200.57 229.5,200.9 C231.33,201.23 232.92,201.5 235,201.5 C237.08,201.5 240.83,201 242,200.9" fill="none" stroke="#2020c8" stroke-width="1.5" stroke-linejoin="round" stroke-linecap="round" />
<line x1="48.3" y1="206.8" x2="48.3" y2="297.5" stroke="#2020c8" stroke-width="0.9" />
<polygon points="48.3,206.8 46.9,209.8 49.7,209.8" fill="#2020c8"/>
<polygon points="48.3,297.5 46.9,294.5 49.7,294.5" fill="#2020c8"/>
<line x1="48.3" y1="299.5" x2="48.3" y2="328.5" stroke="#2020c8" stroke-width="0.9" />
<polygon points="48.3,299.5 46.9,302.5 49.7,302.5" fill="#2020c8"/>
<polygon points="48.3,328.5 46.9,325.5 49.7,325.5" fill="#2020c8"/>
<line x1="61.3" y1="206.8" x2="61.3" y2="297.5" stroke="#2ee02e" stroke-width="0.9" />
<polygon points="61.3,206.8 59.9,209.8 62.7,209.8" fill="#2ee02e"/>
<polygon points="61.3,297.5 59.9,294.5 62.7,294.5" fill="#2ee02e"/>
<line x1="61.3" y1="299.5" x2="61.3" y2="330.5" stroke="#2ee02e" stroke-width="0.9" />
<polygon points="61.3,299.5 59.9,302.5 62.7,302.5" fill="#2ee02e"/>
<polygon points="61.3,330.5 59.9,327.5 62.7,327.5" fill="#2ee02e"/>
<line x1="218.7" y1="206.8" x2="218.7" y2="322.8" stroke="#585858" stroke-width="0.9" />
<polygon points="218.7,206.8 217.3,209.8 220.1,209.8" fill="#585858"/>
<polygon points="218.7,322.8 217.3,319.8 220.1,319.8" fill="#585858"/>
<line x1="231.7" y1="206.8" x2="231.7" y2="310.5" stroke="#e41a1c" stroke-width="0.9" />
<polygon points="231.7,206.8 230.3,209.8 233.1,209.8" fill="#e41a1c"/>
<polygon points="231.7,310.5 230.3,307.5 233.1,307.5" fill="#e41a1c"/>
<line x1="231.7" y1="312" x2="231.7" y2="329" stroke="#e41a1c" stroke-width="0.9" />
<polygon points="231.7,312 230.3,315 233.1,315" fill="#e41a1c"/>
<polygon points="231.7,329 230.3,326 233.1,326" fill="#e41a1c"/>
<line x1="76.8" y1="248" x2="110.7" y2="248" stroke="#2ee02e" stroke-width="0.9" />
<polygon points="81,248 77.8,246.5 77.8,249.5" fill="#2ee02e"/>
<polygon points="106.5,248 109.7,246.5 109.7,249.5" fill="#2ee02e"/>
<line x1="68.5" y1="273" x2="109.9" y2="273" stroke="#2020c8" stroke-width="0.9" />
<polygon points="76,273 72.8,271.5 72.8,274.5" fill="#2020c8"/>
<polygon points="102.4,273 105.6,271.5 105.6,274.5" fill="#2020c8"/>
<line x1="191.5" y1="253.4" x2="209.5" y2="253.4" stroke="#585858" stroke-width="0.9" />
<polygon points="197.5,253.4 194.3,251.9 194.3,254.9" fill="#585858"/>
<polygon points="203,253.4 206.2,251.9 206.2,254.9" fill="#585858"/>
<line x1="187.8" y1="266.6" x2="211.5" y2="266.6" stroke="#e41a1c" stroke-width="0.9" />
<polygon points="194.5,266.6 191.3,265.1 191.3,268.1" fill="#e41a1c"/>
<polygon points="204.5,266.6 207.7,265.1 207.7,268.1" fill="#e41a1c"/>
<circle cx="76.3" cy="261.5" r="1.2" fill="#fff" stroke="#2020c8" stroke-width="0.6"/>
<circle cx="82.6" cy="261.5" r="1.2" fill="#fff" stroke="#2ee02e" stroke-width="0.6"/>
<circle cx="102.4" cy="261.5" r="1.2" fill="#fff" stroke="#2020c8" stroke-width="0.6"/>
<circle cx="92.2" cy="298.6" r="1.2" fill="#fff" stroke="#2020c8" stroke-width="0.6"/>
<circle cx="78.8" cy="329.1" r="1.2" fill="#fff" stroke="#2020c8" stroke-width="0.6"/>
<circle cx="91.8" cy="330.5" r="1.2" fill="#fff" stroke="#2ee02e" stroke-width="0.6"/>
<circle cx="194.9" cy="260.7" r="1.2" fill="#fff" stroke="#e41a1c" stroke-width="0.6"/>
<circle cx="198.9" cy="260.7" r="1.2" fill="#fff" stroke="#585858" stroke-width="0.6"/>
<circle cx="202.5" cy="260.7" r="1.2" fill="#fff" stroke="#585858" stroke-width="0.6"/>
<circle cx="205.5" cy="260.7" r="1.2" fill="#fff" stroke="#e41a1c" stroke-width="0.6"/>
<circle cx="203.2" cy="329.6" r="1.2" fill="#fff" stroke="#e41a1c" stroke-width="0.6"/>
<path d="M176.5,217 C186,218 190,235 192,252" fill="none" stroke="#b4b4c4" stroke-width="0.7"/>
<path d="M176.5,225.6 C184,228 186,250 188,265" fill="none" stroke="#b4b4c4" stroke-width="0.7"/>
<path d="M122,235 C116,235 114,244 110.7,248" fill="none" stroke="#b4b4c4" stroke-width="0.7"/>
<path d="M122,243.6 C117,244 112,266 109.9,273" fill="none" stroke="#b4b4c4" stroke-width="0.7"/>
<rect x="33" y="189" width="209" height="146.2" fill="none" stroke="#1e1e1e" stroke-width="1.45"/>
<line x1="64.35" y1="335.2" x2="64.35" y2="332.2" stroke="#1e1e1e" stroke-width="1.0" />
<line x1="116.6" y1="335.2" x2="116.6" y2="332.2" stroke="#1e1e1e" stroke-width="1.0" />
<line x1="168.85" y1="335.2" x2="168.85" y2="332.2" stroke="#1e1e1e" stroke-width="1.0" />
<line x1="221.1" y1="335.2" x2="221.1" y2="332.2" stroke="#1e1e1e" stroke-width="1.0" />
<line x1="38.22" y1="335.2" x2="38.22" y2="333.4" stroke="#1e1e1e" stroke-width="0.9" />
<line x1="90.47" y1="335.2" x2="90.47" y2="333.4" stroke="#1e1e1e" stroke-width="0.9" />
<line x1="142.72" y1="335.2" x2="142.72" y2="333.4" stroke="#1e1e1e" stroke-width="0.9" />
<line x1="194.97" y1="335.2" x2="194.97" y2="333.4" stroke="#1e1e1e" stroke-width="0.9" />
<line x1="33" y1="189" x2="36" y2="189" stroke="#1e1e1e" stroke-width="1.0" />
<line x1="33" y1="225.55" x2="36" y2="225.55" stroke="#1e1e1e" stroke-width="1.0" />
<line x1="33" y1="262.1" x2="36" y2="262.1" stroke="#1e1e1e" stroke-width="1.0" />
<line x1="33" y1="298.65" x2="36" y2="298.65" stroke="#1e1e1e" stroke-width="1.0" />
<line x1="33" y1="335.2" x2="36" y2="335.2" stroke="#1e1e1e" stroke-width="1.0" />
<line x1="33" y1="207.28" x2="34.8" y2="207.28" stroke="#1e1e1e" stroke-width="0.9" />
<line x1="33" y1="243.82" x2="34.8" y2="243.82" stroke="#1e1e1e" stroke-width="0.9" />
<line x1="33" y1="280.38" x2="34.8" y2="280.38" stroke="#1e1e1e" stroke-width="0.9" />
<line x1="33" y1="316.92" x2="34.8" y2="316.92" stroke="#1e1e1e" stroke-width="0.9" />
<text x="64.35" y="346.8" font-family="'Liberation Sans', Arial, sans-serif" font-size="9.3" font-weight="normal" fill="#111" text-anchor="middle" >1543.5</text>
<text x="116.6" y="346.8" font-family="'Liberation Sans', Arial, sans-serif" font-size="9.3" font-weight="normal" fill="#111" text-anchor="middle" >1544.0</text>
<text x="168.85" y="346.8" font-family="'Liberation Sans', Arial, sans-serif" font-size="9.3" font-weight="normal" fill="#111" text-anchor="middle" >1544.5</text>
<text x="221.1" y="346.8" font-family="'Liberation Sans', Arial, sans-serif" font-size="9.3" font-weight="normal" fill="#111" text-anchor="middle" >1545.0</text>
<text x="29.5" y="192" font-family="'Liberation Sans', Arial, sans-serif" font-size="9.3" font-weight="normal" fill="#111" text-anchor="end" >-8</text>
<text x="29.5" y="228.55" font-family="'Liberation Sans', Arial, sans-serif" font-size="9.3" font-weight="normal" fill="#111" text-anchor="end" >-10</text>
<text x="29.5" y="265.1" font-family="'Liberation Sans', Arial, sans-serif" font-size="9.3" font-weight="normal" fill="#111" text-anchor="end" >-12</text>
<text x="29.5" y="301.65" font-family="'Liberation Sans', Arial, sans-serif" font-size="9.3" font-weight="normal" fill="#111" text-anchor="end" >-14</text>
<text x="29.5" y="338.2" font-family="'Liberation Sans', Arial, sans-serif" font-size="9.3" font-weight="normal" fill="#111" text-anchor="end" >-16</text>
<text x="31" y="208" font-family="'Liberation Sans', Arial, sans-serif" font-size="6.8" font-weight="normal" fill="#333" text-anchor="end" >-8.95</text>
<text x="122.9" y="219.3" font-family="'Liberation Sans', Arial, sans-serif" font-size="5.8" font-weight="normal" fill="#222" textLength="53.6" lengthAdjust="spacingAndGlyphs">3-dB BW<tspan font-size="4" dy="1.2">1</tspan><tspan dy="-1.2"> = &#160;&#160;&#160;&#160;42[pm]</tspan></text>
<text x="122.9" y="228.1" font-family="'Liberation Sans', Arial, sans-serif" font-size="5.8" font-weight="normal" fill="#222" textLength="53.6" lengthAdjust="spacingAndGlyphs">3-dB BW<tspan font-size="4" dy="1.2">2</tspan><tspan dy="-1.2"> = &#160;&#160;&#160;&#160;94[pm]</tspan></text>
<text x="122.9" y="237.2" font-family="'Liberation Sans', Arial, sans-serif" font-size="5.8" font-weight="normal" fill="#222" textLength="53.6" lengthAdjust="spacingAndGlyphs">3-dB BW<tspan font-size="4" dy="1.2">3</tspan><tspan dy="-1.2"> = 183[pm]</tspan></text>
<text x="122.9" y="246" font-family="'Liberation Sans', Arial, sans-serif" font-size="5.8" font-weight="normal" fill="#222" textLength="53.6" lengthAdjust="spacingAndGlyphs">3-dB BW<tspan font-size="4" dy="1.2">3</tspan><tspan dy="-1.2"> = 253[pm]</tspan></text>
<text x="43" y="250.5" font-family="'Liberation Serif', 'Times New Roman', serif" font-size="7" font-weight="normal" fill="#111" text-anchor="start" textLength="24" lengthAdjust="spacingAndGlyphs" >5.06 5.04</text>
<text x="43.4" y="317" font-family="'Liberation Serif', 'Times New Roman', serif" font-size="7" font-weight="normal" fill="#111" text-anchor="start" textLength="23.3" lengthAdjust="spacingAndGlyphs" >1.66 1.79</text>
<text x="213.8" y="264" font-family="'Liberation Serif', 'Times New Roman', serif" font-size="7" font-weight="normal" fill="#111" text-anchor="start" textLength="10.7" lengthAdjust="spacingAndGlyphs" >6.41</text>
<text x="225.7" y="256.3" font-family="'Liberation Serif', 'Times New Roman', serif" font-size="7" font-weight="normal" fill="#111" text-anchor="start" textLength="11.8" lengthAdjust="spacingAndGlyphs" >5.70</text>
<text x="226.9" y="322.8" font-family="'Liberation Serif', 'Times New Roman', serif" font-size="7" font-weight="normal" fill="#111" text-anchor="start" textLength="10.6" lengthAdjust="spacingAndGlyphs" >1.07</text>
<text x="38" y="201.7" font-family="'Liberation Sans', Arial, sans-serif" font-size="12.4" font-weight="bold" fill="#111" text-anchor="start" >(c)</text>
<rect x="123.7" y="296.8" width="52.7" height="38.4" fill="#ffffff" stroke="#9a9a9a" stroke-width="0.7"/>
<line x1="124.6" y1="302.8" x2="142" y2="302.8" stroke="#585858" stroke-width="1.4" />
<text x="143.4" y="305.11" font-family="'Liberation Sans', Arial, sans-serif" font-size="6.6" font-weight="normal" fill="#222" text-anchor="start" textLength="32.2" lengthAdjust="spacingAndGlyphs" >1-Ring&#160;&#160;BSF</text>
<line x1="124.6" y1="311.8" x2="142" y2="311.8" stroke="#e41a1c" stroke-width="1.4" />
<text x="143.4" y="314.11" font-family="'Liberation Sans', Arial, sans-serif" font-size="6.6" font-weight="normal" fill="#222" text-anchor="start" textLength="32.2" lengthAdjust="spacingAndGlyphs" >2-Rings BSF</text>
<line x1="124.6" y1="320.6" x2="142" y2="320.6" stroke="#2ee02e" stroke-width="1.4" />
<text x="143.4" y="322.91" font-family="'Liberation Sans', Arial, sans-serif" font-size="6.6" font-weight="normal" fill="#222" text-anchor="start" textLength="32.2" lengthAdjust="spacingAndGlyphs" >3-Rings BSF</text>
<line x1="124.6" y1="329.4" x2="142" y2="329.4" stroke="#2020c8" stroke-width="1.4" />
<text x="143.4" y="331.71" font-family="'Liberation Sans', Arial, sans-serif" font-size="6.6" font-weight="normal" fill="#222" text-anchor="start" textLength="32.2" lengthAdjust="spacingAndGlyphs" >4-Rings BSF</text>
<text x="137.7" y="359.2" font-family="'Liberation Sans', Arial, sans-serif" font-size="12.3" font-weight="bold" fill="#111" text-anchor="middle" textLength="97.9" lengthAdjust="spacingAndGlyphs" >Wavelength (nm)</text>
<text transform="translate(11,261.4) rotate(-90)" x="0" y="0" text-anchor="middle" font-family="'Liberation Sans', Arial, sans-serif" font-size="12.3" font-weight="bold" fill="#111" textLength="107.4" lengthAdjust="spacingAndGlyphs">Transmission (dB)</text>
<line x1="296" y1="199.1" x2="505" y2="199.1" stroke="#555" stroke-width="0.9" stroke-dasharray="1.2 1.3"/>
<line x1="340.8" y1="189" x2="340.8" y2="335.2" stroke="#888" stroke-width="0.8" stroke-dasharray="1 1.3"/>
<line x1="370.9" y1="189" x2="370.9" y2="335.2" stroke="#e41a1c" stroke-width="0.8" stroke-dasharray="1 1.3"/>
<line x1="424.7" y1="189" x2="424.7" y2="335.2" stroke="#2ee02e" stroke-width="0.8" stroke-dasharray="1 1.3"/>
<line x1="468" y1="189" x2="468" y2="335.2" stroke="#2020c8" stroke-width="0.9" stroke-dasharray="1 1.3"/>
<rect x="296" y="287" width="65" height="47.5" fill="#ecf8fa"/>
<rect x="338" y="300.2" width="11" height="6" fill="#f7f7dc"/>
<rect x="338" y="319.5" width="11" height="6" fill="#f7f7dc"/>
<line x1="312.6" y1="289.7" x2="312.6" y2="334.5" stroke="#e07272" stroke-width="0.85" />
<line x1="343.4" y1="289.7" x2="343.4" y2="334.5" stroke="#e07272" stroke-width="0.85" />
<path d="M297.1,306.2 L308.1,306.25" fill="none" stroke="#c45858" stroke-width="1.0"/>
<path d="M307,300.5 C306.6,299.8 307.1,298.9 307.1,297.6 C307.1,294.9 305,293.5 303,293.5 C300.7,293.5 298.8,295.2 298.8,297.5 C298.8,299.8 300.6,301.3 302.8,301.3 C304.4,301.3 305.3,301.9 306.1,302.2" fill="none" stroke="#c45858" stroke-width="1.0"/>
<path d="M328.1,306.2 L317.1,306.25" fill="none" stroke="#c45858" stroke-width="1.0"/>
<path d="M318.2,300.5 C318.6,299.8 318.1,298.9 318.1,297.6 C318.1,294.9 320.2,293.5 322.2,293.5 C324.5,293.5 326.4,295.2 326.4,297.5 C326.4,299.8 324.6,301.3 322.4,301.3 C320.8,301.3 319.9,301.9 319.1,302.2" fill="none" stroke="#c45858" stroke-width="1.0"/>
<circle cx="309.25" cy="302.9" r="3.25" fill="none" stroke="#c45858" stroke-width="1.0"/>
<circle cx="315.95" cy="302.9" r="3.25" fill="none" stroke="#c45858" stroke-width="1.0"/>
<path d="M327.9,306.2 L338.9,306.25" fill="none" stroke="#c45858" stroke-width="1.0"/>
<path d="M337.8,300.5 C337.4,299.8 337.9,298.9 337.9,297.6 C337.9,294.9 335.8,293.5 333.8,293.5 C331.5,293.5 329.6,295.2 329.6,297.5 C329.6,299.8 331.4,301.3 333.6,301.3 C335.2,301.3 336.1,301.9 336.9,302.2" fill="none" stroke="#c45858" stroke-width="1.0"/>
<path d="M358.9,306.2 L347.9,306.25" fill="none" stroke="#c45858" stroke-width="1.0"/>
<path d="M349,300.5 C349.4,299.8 348.9,298.9 348.9,297.6 C348.9,294.9 351,293.5 353,293.5 C355.3,293.5 357.2,295.2 357.2,297.5 C357.2,299.8 355.4,301.3 353.2,301.3 C351.6,301.3 350.7,301.9 349.9,302.2" fill="none" stroke="#c45858" stroke-width="1.0"/>
<circle cx="340.05" cy="302.9" r="3.25" fill="none" stroke="#f3f3cc" stroke-width="1.0"/>
<circle cx="346.75" cy="302.9" r="3.25" fill="none" stroke="#f3f3cc" stroke-width="1.0"/>
<line x1="327.9" y1="306.2" x2="328.1" y2="306.2" stroke="#c45858" stroke-width="0.85" />
<line x1="299.7" y1="306.2" x2="297.3" y2="306.2" stroke="#c45858" stroke-width="0.85" />
<line x1="358.7" y1="306.2" x2="357" y2="306.2" stroke="#c45858" stroke-width="0.85" />
<line x1="298.9" y1="304.9" x2="298.9" y2="307" stroke="#b0b0b0" stroke-width="0.6" />
<line x1="357.8" y1="304.9" x2="357.8" y2="307" stroke="#b0b0b0" stroke-width="0.6" />
<path d="M297.1,325.5 L308.1,325.55" fill="none" stroke="#c45858" stroke-width="1.0"/>
<path d="M307,319.8 C306.6,319.1 307.1,318.2 307.1,316.9 C307.1,314.2 305,312.8 303,312.8 C300.7,312.8 298.8,314.5 298.8,316.8 C298.8,319.1 300.6,320.6 302.8,320.6 C304.4,320.6 305.3,321.2 306.1,321.5" fill="none" stroke="#c45858" stroke-width="1.0"/>
<path d="M328.1,325.5 L317.1,325.55" fill="none" stroke="#c45858" stroke-width="1.0"/>
<path d="M318.2,319.8 C318.6,319.1 318.1,318.2 318.1,316.9 C318.1,314.2 320.2,312.8 322.2,312.8 C324.5,312.8 326.4,314.5 326.4,316.8 C326.4,319.1 324.6,320.6 322.4,320.6 C320.8,320.6 319.9,321.2 319.1,321.5" fill="none" stroke="#c45858" stroke-width="1.0"/>
<circle cx="309.25" cy="322.2" r="3.25" fill="none" stroke="#c45858" stroke-width="1.0"/>
<circle cx="315.95" cy="322.2" r="3.25" fill="none" stroke="#c45858" stroke-width="1.0"/>
<path d="M327.9,325.5 L338.9,325.55" fill="none" stroke="#c45858" stroke-width="1.0"/>
<path d="M337.8,319.8 C337.4,319.1 337.9,318.2 337.9,316.9 C337.9,314.2 335.8,312.8 333.8,312.8 C331.5,312.8 329.6,314.5 329.6,316.8 C329.6,319.1 331.4,320.6 333.6,320.6 C335.2,320.6 336.1,321.2 336.9,321.5" fill="none" stroke="#c45858" stroke-width="1.0"/>
<path d="M358.9,325.5 L347.9,325.55" fill="none" stroke="#c45858" stroke-width="1.0"/>
<path d="M349,319.8 C349.4,319.1 348.9,318.2 348.9,316.9 C348.9,314.2 351,312.8 353,312.8 C355.3,312.8 357.2,314.5 357.2,316.8 C357.2,319.1 355.4,320.6 353.2,320.6 C351.6,320.6 350.7,321.2 349.9,321.5" fill="none" stroke="#c45858" stroke-width="1.0"/>
<circle cx="340.05" cy="322.2" r="3.25" fill="none" stroke="#f3f3cc" stroke-width="1.0"/>
<circle cx="346.75" cy="322.2" r="3.25" fill="none" stroke="#f3f3cc" stroke-width="1.0"/>
<line x1="327.9" y1="325.5" x2="328.1" y2="325.5" stroke="#c45858" stroke-width="0.85" />
<line x1="299.7" y1="325.5" x2="297.3" y2="325.5" stroke="#c45858" stroke-width="0.85" />
<line x1="358.7" y1="325.5" x2="357" y2="325.5" stroke="#c45858" stroke-width="0.85" />
<line x1="298.9" y1="324.2" x2="298.9" y2="326.3" stroke="#b0b0b0" stroke-width="0.6" />
<line x1="357.8" y1="324.2" x2="357.8" y2="326.3" stroke="#b0b0b0" stroke-width="0.6" />
<line x1="337.6" y1="300.6" x2="349.2" y2="300.6" stroke="#c45858" stroke-width="0.85" />
<line x1="337.6" y1="319.9" x2="349.2" y2="319.9" stroke="#c45858" stroke-width="0.85" />
<path d="M296,197.1 C296.67,197.43 298.58,198.38 300,199.1 C301.42,199.82 303,200.65 304.5,201.4 C306,202.15 307.57,202.88 309,203.6 C310.43,204.32 311.77,205.4 313.1,205.7 C314.43,206 315.58,205.55 317,205.4 C318.42,205.25 320.1,205.05 321.6,204.8 C323.1,204.55 324.57,204.18 326,203.9 C327.43,203.62 328.87,203.45 330.2,203.1 C331.53,202.75 332.87,202.08 334,201.8 C335.13,201.52 335.92,201.23 337,201.4 C338.08,201.57 339.35,202.37 340.5,202.8 C341.65,203.23 342.65,203.62 343.9,204 C345.15,204.38 346.58,204.82 348,205.1 C349.42,205.38 350.98,205.82 352.4,205.7 C353.82,205.58 355.65,204.12 356.5,204.4 C357.35,204.68 356.9,205.77 357.5,207.4 C358.1,209.03 359.38,210.22 360.1,214.2 C360.82,218.18 361.4,225.23 361.8,231.3 C362.2,237.37 362.18,243.43 362.5,250.6 C362.82,257.77 363.33,265.02 363.7,274.3 C364.07,283.58 364.32,303.92 364.7,306.3 C365.08,308.68 365.48,294.72 366,288.6 C366.52,282.48 367.3,272.1 367.8,269.6 C368.3,267.1 368.62,272.42 369,273.6 C369.38,274.78 369.63,278.17 370.1,276.7 C370.57,275.23 371.32,262.43 371.8,264.8 C372.28,267.17 372.48,289.72 373,290.9 C373.52,292.08 374.4,277.28 374.9,271.9 C375.4,266.52 375.73,262.15 376,258.6 C376.27,255.05 376.27,254.28 376.5,250.6 C376.73,246.92 376.98,241.13 377.4,236.5 C377.82,231.87 378.3,227.65 379,222.8 C379.7,217.95 380.77,210.77 381.6,207.4 C382.43,204.03 383,203.6 384,202.6 C385,201.6 386.43,201.4 387.6,201.4 C388.77,201.4 389.87,202.32 391,202.6 C392.13,202.88 393.23,203.13 394.4,203.1 C395.57,203.07 396.85,202.68 398,202.4 C399.15,202.12 400.05,201.87 401.3,201.4 C402.55,200.93 404.08,200.17 405.5,199.6 C406.92,199.03 408.38,198.5 409.8,198 C411.22,197.5 412.57,197.03 414,196.6 C415.43,196.17 417.07,195.57 418.4,195.4 C419.73,195.23 420.87,195.45 422,195.6 C423.13,195.75 423.87,195.9 425.2,196.3 C426.53,196.7 428.37,197.65 430,198 C431.63,198.35 433.33,198.35 435,198.4 C436.67,198.45 438.33,198.52 440,198.3 C441.67,198.08 443.38,197.42 445,197.1 C446.62,196.78 448.12,196.55 449.7,196.4 C451.28,196.25 452.9,196.2 454.5,196.2 C456.1,196.2 457.72,196.28 459.3,196.4 C460.88,196.52 462.38,196.73 464,196.9 C465.62,197.07 467.33,197.22 469,197.4 C470.67,197.58 472.4,197.85 474,198 C475.6,198.15 477.1,198.37 478.6,198.3 C480.1,198.23 481.38,197.92 483,197.6 C484.62,197.28 486.63,196.77 488.3,196.4 C489.97,196.03 491.38,195.77 493,195.4 C494.62,195.03 496.22,194.67 498,194.2 C499.78,193.73 502.75,192.87 503.7,192.6" fill="none" stroke="#e41a1c" stroke-width="1.5" stroke-linejoin="round" stroke-linecap="round" />
<path d="M296,196.8 C296.67,197.13 298.58,198.08 300,198.8 C301.42,199.52 303,200.35 304.5,201.1 C306,201.85 307.57,202.58 309,203.3 C310.43,204.02 311.77,205.1 313.1,205.4 C314.43,205.7 315.58,205.25 317,205.1 C318.42,204.95 320.1,204.75 321.6,204.5 C323.1,204.25 325,203.45 326,203.6 C327,203.75 327.05,203.95 327.6,205.4 C328.15,206.85 328.85,209.82 329.3,212.3 C329.75,214.78 330.02,217.18 330.3,220.3 C330.58,223.42 330.73,226 331,231 C331.27,236 331.58,245.08 331.9,250.3 C332.22,255.52 332.65,257.67 332.9,262.3 C333.15,266.93 333.02,277.75 333.4,278.1 C333.78,278.45 334.55,265.77 335.2,264.4 C335.85,263.03 336.55,270.13 337.3,269.9 C338.05,269.67 338.9,264.03 339.7,263 C340.5,261.97 341.47,261.98 342.1,263.7 C342.73,265.42 342.98,271.02 343.5,273.3 C344.02,275.58 344.63,279.47 345.2,277.4 C345.77,275.33 346.38,266.25 346.9,260.9 C347.42,255.55 347.9,250.28 348.3,245.3 C348.7,240.32 348.9,236.23 349.3,231 C349.7,225.77 350.03,218.17 350.7,213.9 C351.37,209.63 352.33,207.03 353.3,205.4 C354.27,203.77 355.97,204.32 356.5,204.1" fill="none" stroke="#585858" stroke-width="1.5" stroke-linejoin="round" stroke-linecap="round" />
<path d="M296,197 C296.67,197.33 298.58,198.28 300,199 C301.42,199.72 303,200.55 304.5,201.3 C306,202.05 307.57,202.78 309,203.5 C310.43,204.22 311.77,205.3 313.1,205.6 C314.43,205.9 315.58,205.45 317,205.3 C318.42,205.15 320.1,204.95 321.6,204.7 C323.1,204.45 324.57,204.08 326,203.8 C327.43,203.52 328.87,203.35 330.2,203 C331.53,202.65 332.87,201.98 334,201.7 C335.13,201.42 335.92,201.13 337,201.3 C338.08,201.47 339.35,202.27 340.5,202.7 C341.65,203.13 342.65,203.52 343.9,203.9 C345.15,204.28 346.58,204.72 348,205 C349.42,205.28 350.98,205.72 352.4,205.6 C353.82,205.48 355.07,204.87 356.5,204.3 C357.93,203.73 359.75,202.92 361,202.2 C362.25,201.48 362.98,200.72 364,200 C365.02,199.28 366.02,198.52 367.1,197.9 C368.18,197.28 369.37,196.78 370.5,196.3 C371.63,195.82 372.73,195.1 373.9,195 C375.07,194.9 376.35,195.37 377.5,195.7 C378.65,196.03 379.72,196.45 380.8,197 C381.88,197.55 382.87,198.28 384,199 C385.13,199.72 386.43,200.72 387.6,201.3 C388.77,201.88 389.87,202.22 391,202.5 C392.13,202.78 393.23,203.03 394.4,203 C395.57,202.97 396.85,202.58 398,202.3 C399.15,202.02 400.05,201.77 401.3,201.3 C402.55,200.83 404.08,200.07 405.5,199.5 C406.92,198.93 408.85,197.78 409.8,197.9 C410.75,198.02 410.48,199.18 411.2,200.2 C411.92,201.22 413.3,201.75 414.1,204 C414.9,206.25 415.52,209.52 416,213.7 C416.48,217.88 416.67,223.32 417,229.1 C417.33,234.88 417.58,242.83 418,248.4 C418.42,253.97 419.05,257.42 419.5,262.5 C419.95,267.58 420.23,273 420.7,278.9 C421.17,284.8 421.8,297.5 422.3,297.9 C422.8,298.3 423.18,287.23 423.7,281.3 C424.22,275.37 424.92,259.53 425.4,262.3 C425.88,265.07 426.2,292.37 426.6,297.9 C427,303.43 427.22,299.45 427.8,295.5 C428.38,291.55 429.52,280.87 430.1,274.2 C430.68,267.53 430.83,262.05 431.3,255.5 C431.77,248.95 432.45,240.9 432.9,234.9 C433.35,228.9 433.58,224 434,219.5 C434.42,215 434.85,210.8 435.4,207.9 C435.95,205 436.53,203.58 437.3,202.1 C438.07,200.62 438.72,199.85 440,199 C441.28,198.15 443.38,197.45 445,197 C446.62,196.55 448.12,196.45 449.7,196.3 C451.28,196.15 452.9,196.1 454.5,196.1 C456.1,196.1 457.72,196.18 459.3,196.3 C460.88,196.42 462.38,196.63 464,196.8 C465.62,196.97 467.33,197.12 469,197.3 C470.67,197.48 472.4,197.75 474,197.9 C475.6,198.05 477.1,198.27 478.6,198.2 C480.1,198.13 481.38,197.82 483,197.5 C484.62,197.18 486.63,196.67 488.3,196.3 C489.97,195.93 491.38,195.67 493,195.3 C494.62,194.93 496.22,194.57 498,194.1 C499.78,193.63 502.75,192.77 503.7,192.5" fill="none" stroke="#2ee02e" stroke-width="1.5" stroke-linejoin="round" stroke-linecap="round" />
<path d="M296,196.5 C296.67,196.83 298.58,197.78 300,198.5 C301.42,199.22 303,200.05 304.5,200.8 C306,201.55 307.57,202.28 309,203 C310.43,203.72 311.77,204.8 313.1,205.1 C314.43,205.4 315.58,204.95 317,204.8 C318.42,204.65 320.1,204.45 321.6,204.2 C323.1,203.95 324.57,203.58 326,203.3 C327.43,203.02 328.87,202.85 330.2,202.5 C331.53,202.15 332.87,201.48 334,201.2 C335.13,200.92 335.92,200.63 337,200.8 C338.08,200.97 339.35,201.77 340.5,202.2 C341.65,202.63 342.65,203.02 343.9,203.4 C345.15,203.78 346.58,204.22 348,204.5 C349.42,204.78 350.98,205.22 352.4,205.1 C353.82,204.98 355.07,204.37 356.5,203.8 C357.93,203.23 359.75,202.42 361,201.7 C362.25,200.98 362.98,200.22 364,199.5 C365.02,198.78 366.02,198.02 367.1,197.4 C368.18,196.78 369.37,196.28 370.5,195.8 C371.63,195.32 372.73,194.6 373.9,194.5 C375.07,194.4 376.35,194.87 377.5,195.2 C378.65,195.53 379.72,195.95 380.8,196.5 C381.88,197.05 382.87,197.78 384,198.5 C385.13,199.22 386.43,200.22 387.6,200.8 C388.77,201.38 389.87,201.72 391,202 C392.13,202.28 393.23,202.53 394.4,202.5 C395.57,202.47 396.85,202.08 398,201.8 C399.15,201.52 400.05,201.27 401.3,200.8 C402.55,200.33 404.08,199.57 405.5,199 C406.92,198.43 408.38,197.9 409.8,197.4 C411.22,196.9 412.57,196.43 414,196 C415.43,195.57 417.07,194.97 418.4,194.8 C419.73,194.63 420.87,194.85 422,195 C423.13,195.15 423.87,195.3 425.2,195.7 C426.53,196.1 428.37,197.05 430,197.4 C431.63,197.75 433.33,197.75 435,197.8 C436.67,197.85 438.33,197.92 440,197.7 C441.67,197.48 443.38,196.82 445,196.5 C446.62,196.18 448.12,195.6 449.7,195.8 C451.28,196 453.22,196.42 454.5,197.7 C455.78,198.98 456.6,200.6 457.4,203.5 C458.2,206.4 458.82,210.68 459.3,215.1 C459.78,219.52 460.05,224.18 460.3,230 C460.55,235.82 460.68,240.75 460.8,250 C460.92,259.25 460.78,275.43 461,285.5 C461.22,295.57 461.6,309.6 462.1,310.4 C462.6,311.2 463.4,297.4 464,290.3 C464.6,283.2 465.22,266.22 465.7,267.8 C466.18,269.38 466.52,293.48 466.9,299.8 C467.28,306.12 467.62,303.33 468,305.7 C468.38,308.07 468.8,311.83 469.2,314 C469.6,316.17 470,327 470.4,318.7 C470.8,310.4 471.2,275.65 471.6,264.2 C472,252.75 472.43,254.03 472.8,250 C473.17,245.97 473.48,245.17 473.8,240 C474.12,234.83 474.38,224.43 474.7,219 C475.02,213.57 475.05,210.62 475.7,207.4 C476.35,204.18 477.38,201.43 478.6,199.7 C479.82,197.97 481.38,197.65 483,197 C484.62,196.35 486.63,196.17 488.3,195.8 C489.97,195.43 491.38,195.17 493,194.8 C494.62,194.43 496.22,194.07 498,193.6 C499.78,193.13 502.75,192.27 503.7,192" fill="none" stroke="#2020c8" stroke-width="1.5" stroke-linejoin="round" stroke-linecap="round" />
<line x1="306" y1="261.7" x2="332" y2="261.7" stroke="#b8b8b8" stroke-width="0.8" />
<line x1="378" y1="263.5" x2="393" y2="263.5" stroke="#b8b8b8" stroke-width="0.8" />
<line x1="401" y1="262.6" x2="416.4" y2="262.6" stroke="#b8b8b8" stroke-width="0.8" />
<line x1="444.4" y1="265.6" x2="459.8" y2="265.6" stroke="#b8b8b8" stroke-width="0.8" />
<line x1="311.5" y1="199.6" x2="311.5" y2="261.2" stroke="#585858" stroke-width="0.9" />
<polygon points="311.5,261.2 310.1,258.2 312.9,258.2" fill="#585858"/>
<line x1="387.8" y1="201" x2="387.8" y2="263" stroke="#e41a1c" stroke-width="0.9" />
<polygon points="387.8,263 386.4,260 389.2,260" fill="#e41a1c"/>
<line x1="407" y1="200" x2="407" y2="262.2" stroke="#2ee02e" stroke-width="0.9" />
<polygon points="407,262.2 405.6,259.2 408.4,259.2" fill="#2ee02e"/>
<line x1="451.9" y1="200" x2="451.9" y2="265" stroke="#2020c8" stroke-width="0.9" />
<polygon points="451.9,200 450.5,203 453.3,203" fill="#2020c8"/>
<polygon points="451.9,265 450.5,262 453.3,262" fill="#2020c8"/>
<line x1="331" y1="235" x2="349" y2="235" stroke="#585858" stroke-width="0.9" />
<polygon points="335,235 331.8,233.5 331.8,236.5" fill="#585858"/>
<polygon points="345,235 348.2,233.5 348.2,236.5" fill="#585858"/>
<line x1="362" y1="235" x2="377" y2="235" stroke="#e41a1c" stroke-width="0.9" />
<polygon points="366,235 362.8,233.5 362.8,236.5" fill="#e41a1c"/>
<polygon points="373,235 376.2,233.5 376.2,236.5" fill="#e41a1c"/>
<line x1="417" y1="234.8" x2="433.4" y2="234.8" stroke="#2ee02e" stroke-width="0.9" />
<polygon points="421,234.8 417.8,233.3 417.8,236.3" fill="#2ee02e"/>
<polygon points="429.5,234.8 432.7,233.3 432.7,236.3" fill="#2ee02e"/>
<line x1="460.3" y1="235.4" x2="474.7" y2="235.4" stroke="#2020c8" stroke-width="0.9" />
<polygon points="464,235.4 460.8,233.9 460.8,236.9" fill="#2020c8"/>
<polygon points="471,235.4 474.2,233.9 474.2,236.9" fill="#2020c8"/>
<circle cx="339.7" cy="262.7" r="1.2" fill="#fff" stroke="#585858" stroke-width="0.6"/>
<circle cx="371.8" cy="264.2" r="1.2" fill="#fff" stroke="#e41a1c" stroke-width="0.6"/>
<circle cx="425.4" cy="261.8" r="1.2" fill="#fff" stroke="#2ee02e" stroke-width="0.6"/>
<circle cx="468" cy="305.7" r="1.2" fill="#fff" stroke="#2020c8" stroke-width="0.6"/>
<rect x="296" y="189" width="209" height="146.2" fill="none" stroke="#1e1e1e" stroke-width="1.45"/>
<line x1="323.87" y1="335.2" x2="323.87" y2="332.2" stroke="#1e1e1e" stroke-width="1.0" />
<line x1="372.63" y1="335.2" x2="372.63" y2="332.2" stroke="#1e1e1e" stroke-width="1.0" />
<line x1="421.4" y1="335.2" x2="421.4" y2="332.2" stroke="#1e1e1e" stroke-width="1.0" />
<line x1="470.17" y1="335.2" x2="470.17" y2="332.2" stroke="#1e1e1e" stroke-width="1.0" />
<line x1="299.48" y1="335.2" x2="299.48" y2="333.4" stroke="#1e1e1e" stroke-width="0.9" />
<line x1="348.25" y1="335.2" x2="348.25" y2="333.4" stroke="#1e1e1e" stroke-width="0.9" />
<line x1="397.02" y1="335.2" x2="397.02" y2="333.4" stroke="#1e1e1e" stroke-width="0.9" />
<line x1="445.78" y1="335.2" x2="445.78" y2="333.4" stroke="#1e1e1e" stroke-width="0.9" />
<line x1="494.55" y1="335.2" x2="494.55" y2="333.4" stroke="#1e1e1e" stroke-width="0.9" />
<line x1="296" y1="189" x2="299" y2="189" stroke="#1e1e1e" stroke-width="1.0" />
<line x1="296" y1="237.73" x2="299" y2="237.73" stroke="#1e1e1e" stroke-width="1.0" />
<line x1="296" y1="286.47" x2="299" y2="286.47" stroke="#1e1e1e" stroke-width="1.0" />
<line x1="296" y1="335.2" x2="299" y2="335.2" stroke="#1e1e1e" stroke-width="1.0" />
<line x1="296" y1="213.37" x2="297.8" y2="213.37" stroke="#1e1e1e" stroke-width="0.9" />
<line x1="296" y1="262.1" x2="297.8" y2="262.1" stroke="#1e1e1e" stroke-width="0.9" />
<line x1="296" y1="310.83" x2="297.8" y2="310.83" stroke="#1e1e1e" stroke-width="0.9" />
<text x="323.87" y="346.8" font-family="'Liberation Sans', Arial, sans-serif" font-size="9.3" font-weight="normal" fill="#111" text-anchor="middle" >1543.5</text>
<text x="372.63" y="346.8" font-family="'Liberation Sans', Arial, sans-serif" font-size="9.3" font-weight="normal" fill="#111" text-anchor="middle" >1544.2</text>
<text x="421.4" y="346.8" font-family="'Liberation Sans', Arial, sans-serif" font-size="9.3" font-weight="normal" fill="#111" text-anchor="middle" >1544.9</text>
<text x="470.17" y="346.8" font-family="'Liberation Sans', Arial, sans-serif" font-size="9.3" font-weight="normal" fill="#111" text-anchor="middle" >1545.6</text>
<text x="292.5" y="192" font-family="'Liberation Sans', Arial, sans-serif" font-size="9.3" font-weight="normal" fill="#111" text-anchor="end" >-8</text>
<text x="292.5" y="240.73" font-family="'Liberation Sans', Arial, sans-serif" font-size="9.3" font-weight="normal" fill="#111" text-anchor="end" >-12</text>
<text x="292.5" y="289.47" font-family="'Liberation Sans', Arial, sans-serif" font-size="9.3" font-weight="normal" fill="#111" text-anchor="end" >-16</text>
<text x="292.5" y="338.2" font-family="'Liberation Sans', Arial, sans-serif" font-size="9.3" font-weight="normal" fill="#111" text-anchor="end" >-20</text>
<text x="293.5" y="201.3" font-family="'Liberation Sans', Arial, sans-serif" font-size="6.6" font-weight="normal" fill="#333" text-anchor="end" >-8.83</text>
<text x="316.2" y="213.4" font-family="'Liberation Sans', Arial, sans-serif" font-size="7.5" font-weight="normal" fill="#1a1a1a" text-anchor="start" textLength="23.6" lengthAdjust="spacingAndGlyphs" >1543.74</text>
<text x="345.6" y="213.4" font-family="'Liberation Sans', Arial, sans-serif" font-size="7.5" font-weight="normal" fill="#1a1a1a" text-anchor="start" textLength="23.6" lengthAdjust="spacingAndGlyphs" >1544.17</text>
<text x="425.7" y="213.4" font-family="'Liberation Sans', Arial, sans-serif" font-size="7.5" font-weight="normal" fill="#1a1a1a" text-anchor="start" textLength="23.6" lengthAdjust="spacingAndGlyphs" >1544.95</text>
<text x="469" y="213.4" font-family="'Liberation Sans', Arial, sans-serif" font-size="7.5" font-weight="normal" fill="#1a1a1a" text-anchor="start" textLength="23.6" lengthAdjust="spacingAndGlyphs" >1545.57</text>
<text x="306.3" y="230.4" font-family="'Liberation Serif', 'Times New Roman', serif" font-size="7" font-weight="normal" fill="#111" text-anchor="start" textLength="11.1" lengthAdjust="spacingAndGlyphs" >5.18</text>
<text x="382.5" y="230.4" font-family="'Liberation Serif', 'Times New Roman', serif" font-size="7" font-weight="normal" fill="#111" text-anchor="start" textLength="11.1" lengthAdjust="spacingAndGlyphs" >5.33</text>
<text x="401.3" y="230.4" font-family="'Liberation Serif', 'Times New Roman', serif" font-size="7" font-weight="normal" fill="#111" text-anchor="start" textLength="11.1" lengthAdjust="spacingAndGlyphs" >5.23</text>
<text x="445.8" y="230.4" font-family="'Liberation Serif', 'Times New Roman', serif" font-size="7" font-weight="normal" fill="#111" text-anchor="start" textLength="11.1" lengthAdjust="spacingAndGlyphs" >5.45</text>
<text x="330.2" y="241.5" font-family="'Liberation Serif', 'Times New Roman', serif" font-size="7" font-weight="normal" fill="#111" text-anchor="start" textLength="21.5" lengthAdjust="spacingAndGlyphs" >257[pm]</text>
<text x="360.1" y="241.5" font-family="'Liberation Serif', 'Times New Roman', serif" font-size="7" font-weight="normal" fill="#111" text-anchor="start" textLength="21.5" lengthAdjust="spacingAndGlyphs" >222[pm]</text>
<text x="414.1" y="242" font-family="'Liberation Serif', 'Times New Roman', serif" font-size="7" font-weight="normal" fill="#111" text-anchor="start" textLength="21.5" lengthAdjust="spacingAndGlyphs" >203[pm]</text>
<text x="458.3" y="242.8" font-family="'Liberation Serif', 'Times New Roman', serif" font-size="7" font-weight="normal" fill="#111" text-anchor="start" textLength="21.5" lengthAdjust="spacingAndGlyphs" >193[pm]</text>
<text x="322.1" y="286.3" font-family="'Liberation Serif', 'Times New Roman', serif" font-size="7.6" font-weight="bold" fill="#555" text-anchor="start" textLength="35.5" lengthAdjust="spacingAndGlyphs" >50.29[mW]</text>
<text x="359.5" y="313" font-family="'Liberation Serif', 'Times New Roman', serif" font-size="7.6" font-weight="bold" fill="#e41a1c" text-anchor="start" textLength="36.7" lengthAdjust="spacingAndGlyphs" >64.22[mW]</text>
<text x="405.7" y="309.5" font-family="'Liberation Serif', 'Times New Roman', serif" font-size="7.6" font-weight="bold" fill="#2ee02e" text-anchor="start" textLength="36.7" lengthAdjust="spacingAndGlyphs" >87.79[mW]</text>
<text x="447.9" y="326.6" font-family="'Liberation Serif', 'Times New Roman', serif" font-size="7.6" font-weight="bold" fill="#2525b0" text-anchor="start" textLength="40.3" lengthAdjust="spacingAndGlyphs" >105.08[mW]</text>
<text x="484.6" y="314.3" font-family="'Liberation Sans', Arial, sans-serif" font-size="12.4" font-weight="bold" fill="#111" text-anchor="start" >(d)</text>
<text x="400.3" y="359.2" font-family="'Liberation Sans', Arial, sans-serif" font-size="12.3" font-weight="bold" fill="#111" text-anchor="middle" textLength="98.3" lengthAdjust="spacingAndGlyphs" >Wavelength (nm)</text>
<text transform="translate(273,262) rotate(-90)" x="0" y="0" text-anchor="middle" font-family="'Liberation Sans', Arial, sans-serif" font-size="12.3" font-weight="bold" fill="#111" textLength="107.4" lengthAdjust="spacingAndGlyphs">Transmission (dB)</text>
</svg>
</body></html>
